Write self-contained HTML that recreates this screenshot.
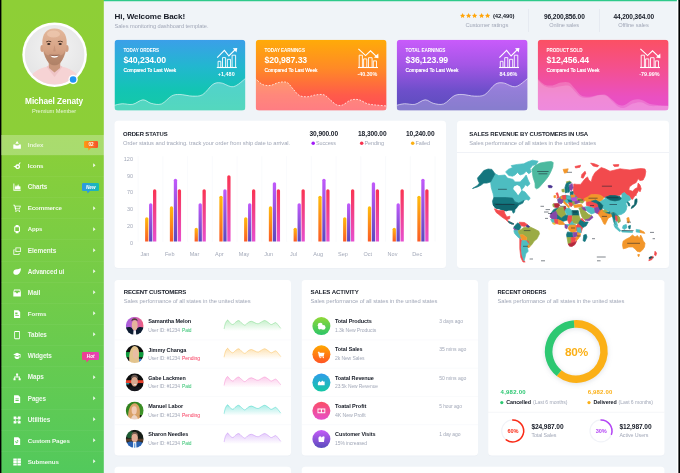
<!DOCTYPE html>
<html><head><meta charset="utf-8"><title>Dashboard</title>
<style>

*{margin:0;padding:0;box-sizing:border-box}
html,body{width:680px;height:473px;overflow:hidden}
body{position:relative;background:#f0f4f8;font-family:"Liberation Sans",sans-serif}
.t{position:absolute;white-space:nowrap;line-height:12px}
.abs{position:absolute}
.card{position:absolute;background:#fff;border-radius:4px;box-shadow:0 0 3px rgba(120,140,170,.10)}
.gc{position:absolute;border-radius:3.5px;overflow:hidden;top:39.7px;height:70.4px;width:130.8px}
.gc svg{position:absolute;left:0;top:0}
svg{display:block;overflow:visible}

</style></head>
<body>
<div id="root" style="position:absolute;left:0;top:0;width:680px;height:473px;will-change:transform">
<svg class="abs" style="left:0;top:0" width="680" height="473" viewBox="0 0 680 473"><defs><linearGradient id="sbg" x1="0" y1="0" x2="0" y2="1"><stop offset="0" stop-color="#8ecf36"/><stop offset=".28" stop-color="#8ccf38"/><stop offset=".6" stop-color="#74cc48"/><stop offset="1" stop-color="#52c95c"/></linearGradient></defs><rect x="0" y="0" width="680" height="1.250" fill="#2ec98a"/><rect x="676.9" y="0" width="1.600" height="473" fill="#fff"/><rect x="678.4" y="0" width="1.600" height="473" fill="#000"/><rect x="0" y="0" width="103.8" height="473" fill="url(#sbg)"/><rect x="0" y="0" width="1.400" height="473" fill="#000"/></svg>
<svg class="abs" style="left:0;top:0" width="680" height="473" viewBox="0 0 680 473"><g fill="#8090a8" fill-opacity=".05" transform="translate(0 .7)"><rect x="114.5" y="120.8" width="331.5" height="147.2" rx="3.5"/><rect x="457" y="120.8" width="212" height="147.2" rx="3.5"/><rect x="114.5" y="280" width="176.5" height="175.5" rx="3.5"/><rect x="301.7" y="280" width="176.3" height="175.5" rx="3.5"/><rect x="488.2" y="280" width="176.3" height="175.5" rx="3.5"/><rect x="114.5" y="466.7" width="176.5" height="20" rx="3.5"/><rect x="301.7" y="466.7" width="362.8" height="20" rx="3.5"/></g><g fill="#fff"><rect x="114.5" y="120.8" width="331.5" height="147.2" rx="3.5"/><rect x="457" y="120.8" width="212" height="147.2" rx="3.5"/><rect x="114.5" y="280" width="176.5" height="175.5" rx="3.5"/><rect x="301.7" y="280" width="176.3" height="175.5" rx="3.5"/><rect x="488.2" y="280" width="176.3" height="175.5" rx="3.5"/><rect x="114.5" y="466.7" width="176.5" height="20" rx="3.5"/><rect x="301.7" y="466.7" width="362.8" height="20" rx="3.5"/></g></svg>
<svg class="abs" style="left:22px;top:22px" width="66" height="66" viewBox="22 22 66 66">
<defs><filter id="fblur" x="-10%" y="-10%" width="120%" height="120%"><feGaussianBlur stdDeviation=".55"/></filter><clipPath id="avc"><circle cx="54.6" cy="54.7" r="29.8"/></clipPath>
<radialGradient id="avbg" cx="50%" cy="40%" r="60%"><stop offset="0" stop-color="#f3f3f3"/><stop offset="1" stop-color="#e3e3e4"/></radialGradient>
<linearGradient id="skin" x1="0" y1="0" x2="0" y2="1"><stop offset="0" stop-color="#e3b89c"/><stop offset=".55" stop-color="#d7a486"/><stop offset="1" stop-color="#b98a70"/></linearGradient>
</defs>
<circle cx="54.6" cy="54.7" r="32.3" fill="#fff"/>
<g clip-path="url(#avc)">
<rect x="22" y="22" width="66" height="66" fill="url(#avbg)"/><g filter="url(#fblur)">
<!-- shirt -->
<path d="M27 90 C28 75 35 69.5 46.5 66.8 L54.5 72 L62.5 66.8 C74 69.5 81 75 82 90 Z" fill="#f6d3d4"/>
<path d="M46.500 66.800 L54.5 77 L62.500 66.800 L59 64.500 L50 64.500 Z" fill="#efc4c6"/>
<!-- neck -->
<path d="M48.5 60 L60.5 60 L60 68 L54.5 72.5 L49 68 Z" fill="#c9977b"/>
<!-- ears -->
<ellipse cx="42.2" cy="48.5" rx="1.8" ry="3.4" fill="#d29f83"/>
<ellipse cx="66.8" cy="48.5" rx="1.8" ry="3.4" fill="#d29f83"/>
<!-- head -->
<path d="M54.5 28.6 C62.8 28.6 66.8 34.5 66.7 43 C66.6 50 65 56 62 60.5 C59.800 63.800 57 65.600 54.5 65.600 C52 65.600 49.2 63.800 47 60.500 C44 56 42.400 50 42.300 43 C42.200 34.500 46.200 28.600 54.500 28.600 Z" fill="url(#skin)"/>
<!-- beard shade -->
<path d="M43.6 50 C45 57 47 61 49.5 63.4 C52 65.6 57 65.6 59.5 63.4 C62 61 64 57 65.4 50 C64 54.5 61.5 56.2 58.8 55 C56.5 54 52.5 54 50.2 55 C47.5 56.2 45 54.5 43.6 50 Z" fill="#9f7258" opacity=".38"/>
<!-- highlight on head -->
<ellipse cx="53.5" cy="34" rx="6.5" ry="3.6" fill="#f0cbb2" opacity=".7"/>
<!-- brows/eyes -->
<path d="M46.2 41.9 Q48.6 40.6 51.2 41.7" stroke="#5b3f30" stroke-width="1" fill="none"/>
<path d="M57.8 41.7 Q60.4 40.6 62.8 41.9" stroke="#5b3f30" stroke-width="1" fill="none"/>
<ellipse cx="48.8" cy="44" rx="1.6" ry=".9" fill="#3a2a24"/>
<ellipse cx="60.2" cy="44" rx="1.6" ry=".9" fill="#3a2a24"/>
<!-- nose -->
<path d="M54.5 45 L53.2 51 Q54.5 52 55.8 51 Z" fill="#c08e73" opacity=".7"/>
<!-- smile -->
<path d="M49.8 55.2 Q54.5 57 59.2 55.2 Q54.5 60.4 49.8 55.2 Z" fill="#fff"/>
<path d="M49.6 55 Q54.5 56.6 59.4 55" stroke="#7f4f42" stroke-width=".6" fill="none"/>
</g></g>
<circle cx="73.1" cy="79.5" r="4.7" fill="#fff"/><circle cx="73.1" cy="79.5" r="3.3" fill="#2196f3"/>
</svg>
<div class="t" style="left:25.10px;top:95px;font-size:8.3px;color:#fff;font-weight:700;letter-spacing:-0.106px;">Michael Zenaty</div>
<div class="t" style="left:32.10px;top:105px;font-size:5.7px;color:rgba(255,255,255,.82);letter-spacing:-0.086px;">Premium Member</div>
<div class="abs" style="left:1.4px;top:134.8px;width:102.2px;height:20.3px;background:rgba(255,255,255,.27)"></div>
<div class="t" style="left:27.80px;top:139px;font-size:6.2px;color:rgba(255,255,255,.72);font-weight:700;letter-spacing:-0.114px;">Index</div>
<svg class="abs" style="left:12.7px;top:140.80px" width="8.200" height="8.200" viewBox="0 0 8 8" fill="#fff"><path d="M4 .1L5.700 2.700H2.300z M.3 3.300H2.100L2.700 4.500H5.300L5.900 3.300H7.700V7.500H.3z"/></svg>
<div class="t" style="left:27.80px;top:160px;font-size:6.2px;color:rgba(255,255,255,.9);font-weight:700;letter-spacing:-0.114px;">Icons</div>
<svg class="abs" style="left:12.7px;top:161.95px" width="8.200" height="8.200" viewBox="0 0 8 8" fill="#fff"><path d="M4.600 2.300a2.300 2.300 0 1 1-2.200 3l-2.100-.8 2.100-.8a2.300 2.300 0 0 1 2.200-1.400z M4.600 3.600a1 1 0 1 0 0 2a1 1 0 0 0 0-2z M5.300 2.200L6.800.2 7.500.8 6.300 2.700z" fill-rule="evenodd"/></svg>
<div class="abs" style="left:1.4px;top:154.78px;width:102.2px;height:.6px;background:rgba(255,255,255,.045)"></div>
<svg class="abs" style="left:92.7px;top:163.25px" width="3" height="4.600" viewBox="0 0 3 4.600"><path d="M.2 .3 L2.500 2.300 L.2 4.300z" fill="#fff" fill-opacity=".88"/></svg>
<div class="t" style="left:27.80px;top:181px;font-size:6.3px;color:rgba(255,255,255,.9);font-weight:700;letter-spacing:-0.076px;">Charts</div>
<svg class="abs" style="left:12.7px;top:183.10px" width="8.200" height="8.200" viewBox="0 0 8 8" fill="#fff"><path d="M.4.6h.9v6h6.3v.9H.4z M1.9 6V4.2l1-2.2.9 1.7L5 1l1 2.6.8-.9.5 1.3V6z"/></svg>
<div class="abs" style="left:1.4px;top:175.93px;width:102.2px;height:.6px;background:rgba(255,255,255,.045)"></div>
<div class="t" style="left:27.80px;top:202px;font-size:6.2px;color:rgba(255,255,255,.9);font-weight:700;letter-spacing:-0.122px;">Ecommerce</div>
<svg class="abs" style="left:12.7px;top:204.25px" width="8.200" height="8.200" viewBox="0 0 8 8" fill="#fff"><path d="M.2.7h1.5l.4 1h5.6l-1 3.3H2.6l.2.7h4v.7H2.2L1.2 1.4h-1z M2.4 2.5l.6 1.8h3.2l.5-1.8z"/><circle cx="2.9" cy="7.3" r=".6"/><circle cx="6.2" cy="7.3" r=".6"/></svg>
<div class="abs" style="left:1.4px;top:197.08px;width:102.2px;height:.6px;background:rgba(255,255,255,.045)"></div>
<svg class="abs" style="left:92.7px;top:205.55px" width="3" height="4.600" viewBox="0 0 3 4.600"><path d="M.2 .3 L2.500 2.300 L.2 4.300z" fill="#fff" fill-opacity=".88"/></svg>
<div class="t" style="left:27.80px;top:223px;font-size:6.0px;color:rgba(255,255,255,.9);font-weight:700;letter-spacing:-0.125px;">Apps</div>
<svg class="abs" style="left:12.7px;top:225.40px" width="8.200" height="8.200" viewBox="0 0 8 8" fill="#fff"><path d="M2.6 0h2.8v1.3h.5a.9.9 0 0 1 .9.9v3.6a.9.9 0 0 1-.9.9h-.5V8H2.6V6.700h-.5a.9.9 0 0 1-.9-.9V2.2a.9.9 0 0 1 .9-.9h.5z M2.2 2.200v3.600h3.600V2.200z" fill-rule="evenodd"/></svg>
<div class="abs" style="left:1.4px;top:218.23px;width:102.2px;height:.6px;background:rgba(255,255,255,.045)"></div>
<svg class="abs" style="left:92.7px;top:226.70px" width="3" height="4.600" viewBox="0 0 3 4.600"><path d="M.2 .3 L2.500 2.300 L.2 4.300z" fill="#fff" fill-opacity=".88"/></svg>
<div class="t" style="left:27.80px;top:245px;font-size:6.5px;color:rgba(255,255,255,.9);font-weight:700;letter-spacing:-0.051px;">Elements</div>
<svg class="abs" style="left:12.7px;top:246.55px" width="8.200" height="8.200" viewBox="0 0 8 8" fill="#fff"><path d="M2.400.4h5.200v4.600H2.400z M3.200 1.200v3h3.600v-3z M.4 2.400h1.400v.8H1.200v3.600h4.400v-.9h.8v1.700H.4z" fill-rule="evenodd"/></svg>
<div class="abs" style="left:1.4px;top:239.38px;width:102.2px;height:.6px;background:rgba(255,255,255,.045)"></div>
<svg class="abs" style="left:92.7px;top:247.85px" width="3" height="4.600" viewBox="0 0 3 4.600"><path d="M.2 .3 L2.500 2.300 L.2 4.300z" fill="#fff" fill-opacity=".88"/></svg>
<div class="t" style="left:27.80px;top:266px;font-size:6.3px;color:rgba(255,255,255,.9);font-weight:700;letter-spacing:-0.087px;">Advanced ui</div>
<svg class="abs" style="left:12.7px;top:267.70px" width="8.200" height="8.200" viewBox="0 0 8 8" fill="#fff"><path d="M.3 4.400C.3 2.400 2 1.300 4 1.300c1.200 0 2-.6 2.800-.9.700-.2 1 .3.900.9C7.400 3.800 6 6.700 3.300 6.700 1.500 6.700.3 5.800.3 4.400z"/></svg>
<div class="abs" style="left:1.4px;top:260.53px;width:102.2px;height:.6px;background:rgba(255,255,255,.045)"></div>
<svg class="abs" style="left:92.7px;top:269.00px" width="3" height="4.600" viewBox="0 0 3 4.600"><path d="M.2 .3 L2.500 2.300 L.2 4.300z" fill="#fff" fill-opacity=".88"/></svg>
<div class="t" style="left:27.80px;top:287px;font-size:6.5px;color:rgba(255,255,255,.9);font-weight:700;letter-spacing:-0.039px;">Mail</div>
<svg class="abs" style="left:12.7px;top:288.85px" width="8.200" height="8.200" viewBox="0 0 8 8" fill="#fff"><path d="M1 .6h6l.7 2.600v4.200H.3V3.200z M1.600 1.400 1.200 3.200h1.700l.4.900h1.400l.4-.9h1.700l-.4-1.800z" fill-rule="evenodd"/></svg>
<div class="abs" style="left:1.4px;top:281.68px;width:102.2px;height:.6px;background:rgba(255,255,255,.045)"></div>
<svg class="abs" style="left:92.7px;top:290.15px" width="3" height="4.600" viewBox="0 0 3 4.600"><path d="M.2 .3 L2.500 2.300 L.2 4.300z" fill="#fff" fill-opacity=".88"/></svg>
<div class="t" style="left:27.80px;top:308px;font-size:6.2px;color:rgba(255,255,255,.9);font-weight:700;letter-spacing:-0.084px;">Forms</div>
<svg class="abs" style="left:12.7px;top:310.00px" width="8.200" height="8.200" viewBox="0 0 8 8" fill="#fff"><path d="M1 .2h4.200L7 2v5.800H1z M2.200 2.400v1.800h2.200V2.400z M2.200 5.200v.7h3.600v-.7z" fill-rule="evenodd"/></svg>
<div class="abs" style="left:1.4px;top:302.83px;width:102.2px;height:.6px;background:rgba(255,255,255,.045)"></div>
<svg class="abs" style="left:92.7px;top:311.30px" width="3" height="4.600" viewBox="0 0 3 4.600"><path d="M.2 .3 L2.500 2.300 L.2 4.300z" fill="#fff" fill-opacity=".88"/></svg>
<div class="t" style="left:27.80px;top:329px;font-size:6.3px;color:rgba(255,255,255,.9);font-weight:700;letter-spacing:-0.081px;">Tables</div>
<svg class="abs" style="left:12.7px;top:331.15px" width="8.200" height="8.200" viewBox="0 0 8 8" fill="#fff"><path d="M2 0h4a.8.800 0 0 1 .8.800v6.400a.8.800 0 0 1-.8.800H2a.8.800 0 0 1-.8-.8V.8A.8.800 0 0 1 2 0z M2 .9v6.200h4V.9z" fill-rule="evenodd"/></svg>
<div class="abs" style="left:1.4px;top:323.98px;width:102.2px;height:.6px;background:rgba(255,255,255,.045)"></div>
<svg class="abs" style="left:92.7px;top:332.45px" width="3" height="4.600" viewBox="0 0 3 4.600"><path d="M.2 .3 L2.500 2.300 L.2 4.300z" fill="#fff" fill-opacity=".88"/></svg>
<div class="t" style="left:27.80px;top:350px;font-size:6.4px;color:rgba(255,255,255,.9);font-weight:700;letter-spacing:-0.114px;">Widgets</div>
<svg class="abs" style="left:12.7px;top:352.30px" width="8.200" height="8.200" viewBox="0 0 8 8" fill="#fff"><path d="M4 .8 7.800 2.500 4 4.200.2 2.500z M1.600 3.900 4 5l2.400-1.100v1.700C5.800 6.500 5 6.900 4 6.900S2.200 6.500 1.600 5.600z M7.200 3v2.400h.5V2.800z"/></svg>
<div class="abs" style="left:1.4px;top:345.12px;width:102.2px;height:.6px;background:rgba(255,255,255,.045)"></div>
<div class="t" style="left:27.80px;top:371px;font-size:6.4px;color:rgba(255,255,255,.9);font-weight:700;letter-spacing:-0.086px;">Maps</div>
<svg class="abs" style="left:12.7px;top:373.45px" width="8.200" height="8.200" viewBox="0 0 8 8" fill="#fff"><path d="M3 .5h2v2H4.400v1h2.400v1.700h.7v2h-2v-2h.6v-.9H1.900v.9h.6v2h-2v-2h.7V3.500h2.400v-1H3z"/></svg>
<div class="abs" style="left:1.4px;top:366.27px;width:102.2px;height:.6px;background:rgba(255,255,255,.045)"></div>
<svg class="abs" style="left:92.7px;top:374.75px" width="3" height="4.600" viewBox="0 0 3 4.600"><path d="M.2 .3 L2.500 2.300 L.2 4.300z" fill="#fff" fill-opacity=".88"/></svg>
<div class="t" style="left:27.80px;top:393px;font-size:6.3px;color:rgba(255,255,255,.9);font-weight:700;letter-spacing:-0.113px;">Pages</div>
<svg class="abs" style="left:12.7px;top:394.60px" width="8.200" height="8.200" viewBox="0 0 8 8" fill="#fff"><path d="M1 .2h4.200L7 2v5.800H1z M2.400 3.400v.8h3.200v-.8z M2.400 5v.8h3.200V5z" fill-rule="evenodd"/></svg>
<div class="abs" style="left:1.4px;top:387.43px;width:102.2px;height:.6px;background:rgba(255,255,255,.045)"></div>
<svg class="abs" style="left:92.7px;top:395.90px" width="3" height="4.600" viewBox="0 0 3 4.600"><path d="M.2 .3 L2.500 2.300 L.2 4.300z" fill="#fff" fill-opacity=".88"/></svg>
<div class="t" style="left:27.80px;top:414px;font-size:6.4px;color:rgba(255,255,255,.9);font-weight:700;letter-spacing:-0.066px;">Utilities</div>
<svg class="abs" style="left:12.7px;top:415.75px" width="8.200" height="8.200" viewBox="0 0 8 8" fill="#fff"><path d="M.6.600h2.600v1.200h1.600V.600h2.600v2.600H6.200v1.600h1.200v2.600H4.800V6.200H3.200v1.200H.6V4.800h1.200V3.200H.6z M2.600 2.600v2.800h2.800V2.600z" fill-rule="evenodd"/></svg>
<div class="abs" style="left:1.4px;top:408.58px;width:102.2px;height:.6px;background:rgba(255,255,255,.045)"></div>
<svg class="abs" style="left:92.7px;top:417.05px" width="3" height="4.600" viewBox="0 0 3 4.600"><path d="M.2 .3 L2.500 2.300 L.2 4.300z" fill="#fff" fill-opacity=".88"/></svg>
<div class="t" style="left:27.80px;top:435px;font-size:6.2px;color:rgba(255,255,255,.9);font-weight:700;letter-spacing:-0.082px;">Custom Pages</div>
<svg class="abs" style="left:12.7px;top:436.90px" width="8.200" height="8.200" viewBox="0 0 8 8" fill="#fff"><path d="M1 .2h4.200L7 2v5.800H1z M3.200 3.400a1.300 1.300 0 1 0 1.700 1.700h-1.700z M4 3v1.300h1.300A1.300 1.300 0 0 0 4 3z" fill-rule="evenodd"/></svg>
<div class="abs" style="left:1.4px;top:429.73px;width:102.2px;height:.6px;background:rgba(255,255,255,.045)"></div>
<svg class="abs" style="left:92.7px;top:438.20px" width="3" height="4.600" viewBox="0 0 3 4.600"><path d="M.2 .3 L2.500 2.300 L.2 4.300z" fill="#fff" fill-opacity=".88"/></svg>
<div class="t" style="left:27.80px;top:456px;font-size:6.2px;color:rgba(255,255,255,.9);font-weight:700;letter-spacing:-0.080px;">Submenus</div>
<svg class="abs" style="left:12.7px;top:458.05px" width="8.200" height="8.200" viewBox="0 0 8 8" fill="#fff"><path d="M.3.600h3.400v2H.3z M4.300.600h3.400v2H4.300z M.3 3h3.400v2H.3z M4.300 3h3.400v2H4.300z M.3 5.400h3.400v2H.3z M4.300 5.400h3.400v2H4.300z"/></svg>
<div class="abs" style="left:1.4px;top:450.88px;width:102.2px;height:.6px;background:rgba(255,255,255,.045)"></div>
<svg class="abs" style="left:92.7px;top:459.35px" width="3" height="4.600" viewBox="0 0 3 4.600"><path d="M.2 .3 L2.500 2.300 L.2 4.300z" fill="#fff" fill-opacity=".88"/></svg>
<div class="abs" style="left:84.1px;top:140.5px;width:13.8px;height:7.6px;border-radius:1.2px;background:linear-gradient(90deg,#ff9b13 0%,#f4512c 100%)"></div>
<svg class="abs" style="left:87.8px;top:147.79999999999998px" width="3" height="2.400" viewBox="0 0 3 2.400"><path d="M0 0h3L.6 2.400z" fill="#ff9b13"/></svg>
<div class="t" style="left:88.44px;top:139px;font-size:4.6px;color:#fff;font-weight:700;">02</div>
<div class="abs" style="left:82.4px;top:183.2px;width:16.7px;height:7.6px;border-radius:1.2px;background:linear-gradient(90deg,#2e97e6 0%,#16bdb0 100%)"></div>
<svg class="abs" style="left:86.5px;top:190.49999999999997px" width="3" height="2.400" viewBox="0 0 3 2.400"><path d="M0 0h3L.6 2.400z" fill="#2e97e6"/></svg>
<div class="t" style="left:86.02px;top:182px;font-size:4.6px;color:#fff;font-weight:700;font-style:italic;">New</div>
<div class="abs" style="left:82.2px;top:352.2px;width:16.9px;height:7.6px;border-radius:1.2px;background:linear-gradient(90deg,#ee3f8e 0%,#e443b7 100%)"></div>
<svg class="abs" style="left:86.3px;top:359.5px" width="3" height="2.400" viewBox="0 0 3 2.400"><path d="M0 0h3L.6 2.400z" fill="#ee3f8e"/></svg>
<div class="t" style="left:86.82px;top:351px;font-size:4.6px;color:#fff;font-weight:700;font-style:italic;">Hot</div>
<div class="t" style="left:114.50px;top:11px;font-size:8.1px;color:#161b26;font-weight:700;letter-spacing:-0.105px;">Hi, Welcome Back!</div>
<div class="t" style="left:114.50px;top:20px;font-size:5.7px;color:#a2a8b8;letter-spacing:-0.050px;">Sales monitoring dashboard template.</div>
<svg class="abs" style="left:459.6px;top:13.4px" width="5.2" height="5" viewBox="0 0 5.2 5"><path d="M2.6 0l.8 1.700 1.800.2-1.300 1.300.3 1.800L2.600 4.100 1 5l.3-1.800L0 1.900l1.800-.2z" fill="#ffa60c"/></svg>
<svg class="abs" style="left:466.0px;top:13.4px" width="5.2" height="5" viewBox="0 0 5.2 5"><path d="M2.6 0l.8 1.700 1.800.2-1.300 1.300.3 1.800L2.600 4.100 1 5l.3-1.800L0 1.900l1.800-.2z" fill="#ffa60c"/></svg>
<svg class="abs" style="left:472.4px;top:13.4px" width="5.2" height="5" viewBox="0 0 5.2 5"><path d="M2.6 0l.8 1.700 1.800.2-1.300 1.300.3 1.800L2.600 4.100 1 5l.3-1.800L0 1.900l1.800-.2z" fill="#ffa60c"/></svg>
<svg class="abs" style="left:478.8px;top:13.4px" width="5.2" height="5" viewBox="0 0 5.2 5"><path d="M2.6 0l.8 1.700 1.800.2-1.300 1.300.3 1.800L2.600 4.100 1 5l.3-1.800L0 1.900l1.800-.2z" fill="#ffa60c"/></svg>
<svg class="abs" style="left:485.2px;top:13.4px" width="5.2" height="5" viewBox="0 0 5.2 5"><path d="M2.6 0l.8 1.700 1.800.2-1.300 1.300.3 1.800L2.600 4.100 1 5l.3-1.800L0 1.900l1.800-.2z" fill="#ffa60c"/></svg>
<div class="t" style="left:492.90px;top:10px;font-size:5.9px;color:#161b26;font-weight:700;letter-spacing:-0.057px;">(42,490)</div>
<div class="t" style="left:465.50px;top:19px;font-size:5.8px;color:#a2a8b8;letter-spacing:-0.090px;">Customer ratings</div>
<div class="abs" style="left:528px;top:8.500px;width:.7px;height:23px;background:#e6eaf1"></div>
<div class="t" style="left:544.00px;top:11px;font-size:6.6px;color:#161b26;font-weight:700;letter-spacing:-0.113px;">96,200,856.00</div>
<div class="t" style="left:549.20px;top:19px;font-size:5.6px;color:#a2a8b8;letter-spacing:-0.091px;">Online sales</div>
<div class="abs" style="left:599px;top:8.500px;width:.7px;height:23px;background:#e6eaf1"></div>
<div class="t" style="left:613.50px;top:11px;font-size:6.5px;color:#161b26;font-weight:700;letter-spacing:-0.083px;">44,200,364.00</div>
<div class="t" style="left:618.20px;top:19px;font-size:5.7px;color:#a2a8b8;letter-spacing:-0.046px;">Offline sales</div>
<svg class="abs" style="left:0;top:0" width="680" height="120" viewBox="0 0 680 120"><defs><linearGradient id="cg0" x1="0" y1="0" x2="0" y2="1"><stop offset="0%" stop-color="#3b9fe9"/><stop offset="38%" stop-color="#22b7cf"/><stop offset="70%" stop-color="#13c4b4"/><stop offset="100%" stop-color="#15c9a6"/></linearGradient><clipPath id="cc0"><rect x="0" y="0" width="130.9" height="70.9" rx="3.5"/></clipPath></defs><g transform="translate(114.5 39.7)"><g clip-path="url(#cc0)"><rect x="0" y="0" width="130.9" height="70.9" fill="url(#cg0)"/><path d="M-0.50 65.68 C0.89 65.40 4.72 64.20 7.82 64.03 C10.93 63.86 14.69 65.30 18.12 64.65 C21.55 64.00 25.32 60.29 28.41 60.12 C31.50 59.95 33.56 62.93 36.65 63.62 C39.74 64.31 43.51 65.47 46.94 64.24 C50.37 63.00 54.15 57.79 57.24 56.21 C60.33 54.63 62.04 54.73 65.47 54.77 C68.90 54.80 74.05 56.38 77.83 56.41 C81.60 56.45 84.69 56.93 88.12 54.97 C91.55 53.02 95.33 46.63 98.41 44.68 C101.50 42.72 103.22 42.86 106.65 43.24 C110.08 43.61 114.90 47.73 119.00 46.94 C123.11 46.15 129.25 39.91 131.30 38.50 L131.3 71 L-.5 71Z" fill="rgba(255,255,255,.27)"/><path d="M-0.50 65.68 C0.89 65.40 4.72 64.20 7.82 64.03 C10.93 63.86 14.69 65.30 18.12 64.65 C21.55 64.00 25.32 60.29 28.41 60.12 C31.50 59.95 33.56 62.93 36.65 63.62 C39.74 64.31 43.51 65.47 46.94 64.24 C50.37 63.00 54.15 57.79 57.24 56.21 C60.33 54.63 62.04 54.73 65.47 54.77 C68.90 54.80 74.05 56.38 77.83 56.41 C81.60 56.45 84.69 56.93 88.12 54.97 C91.55 53.02 95.33 46.63 98.41 44.68 C101.50 42.72 103.22 42.86 106.65 43.24 C110.08 43.61 114.90 47.73 119.00 46.94 C123.11 46.15 129.25 39.91 131.30 38.50" fill="none" stroke="rgba(255,255,255,.75)" stroke-width=".8"/></g><g transform="translate(102.3 8.300)"><g fill="none" stroke="#fff" stroke-width=".9"><path d="M0 19.500H20" stroke-width="1.100"/>
<path d="M1.300 19.300V13.300h2.700v6 M5.700 19.300V9.600h3.100v9.700 M10.600 19.300V11.300h3.100v8 M15.300 19.300V7.200h3.500v12.100"/>
<path d="M.4 9.600L7.600 2.400 12.100 8 18.500 1.500" stroke-width="1.100"/></g><path d="M16 .3L20.500 0 19.700 4.500z" fill="#fff"/></g></g><defs><linearGradient id="cg1" x1="0" y1="0" x2="0" y2="1"><stop offset="0%" stop-color="#ffab08"/><stop offset="40%" stop-color="#ff8a26"/><stop offset="78%" stop-color="#ff5b4a"/><stop offset="100%" stop-color="#ff4d55"/></linearGradient><clipPath id="cc1"><rect x="0" y="0" width="130.9" height="70.9" rx="3.5"/></clipPath></defs><g transform="translate(255.7 39.7)"><g clip-path="url(#cc1)"><rect x="0" y="0" width="130.9" height="70.9" fill="url(#cg1)"/><path d="M-0.50 38.50 C0.68 39.53 4.03 43.48 6.59 44.68 C9.14 45.88 12.08 46.02 14.82 45.71 C17.57 45.40 20.31 43.31 23.06 42.82 C25.80 42.34 28.89 41.73 31.30 42.82 C33.70 43.92 35.41 47.25 37.47 49.41 C39.53 51.58 41.25 54.53 43.65 55.80 C46.05 57.07 49.14 57.13 51.88 57.03 C54.63 56.93 57.37 55.49 60.12 55.18 C62.86 54.87 65.95 54.35 68.35 55.18 C70.76 56.00 72.47 58.47 74.53 60.12 C76.59 61.77 78.65 64.20 80.71 65.06 C82.77 65.92 84.48 66.06 86.88 65.27 C89.29 64.48 92.38 61.18 95.12 60.33 C97.87 59.47 100.61 59.50 103.36 60.12 C106.10 60.74 108.85 63.17 111.59 64.03 C114.34 64.89 116.54 64.89 119.83 65.27 C123.11 65.64 129.39 66.12 131.30 66.30 L131.3 71 L-.5 71Z" fill="rgba(255,255,255,.27)"/><path d="M-0.50 38.50 C0.68 39.53 4.03 43.48 6.59 44.68 C9.14 45.88 12.08 46.02 14.82 45.71 C17.57 45.40 20.31 43.31 23.06 42.82 C25.80 42.34 28.89 41.73 31.30 42.82 C33.70 43.92 35.41 47.25 37.47 49.41 C39.53 51.58 41.25 54.53 43.65 55.80 C46.05 57.07 49.14 57.13 51.88 57.03 C54.63 56.93 57.37 55.49 60.12 55.18 C62.86 54.87 65.95 54.35 68.35 55.18 C70.76 56.00 72.47 58.47 74.53 60.12 C76.59 61.77 78.65 64.20 80.71 65.06 C82.77 65.92 84.48 66.06 86.88 65.27 C89.29 64.48 92.38 61.18 95.12 60.33 C97.87 59.47 100.61 59.50 103.36 60.12 C106.10 60.74 108.85 63.17 111.59 64.03 C114.34 64.89 116.54 64.89 119.83 65.27 C123.11 65.64 129.39 66.12 131.30 66.30" fill="none" stroke="rgba(255,255,255,.85)" stroke-width=".9" stroke-dasharray="1.800 1.400"/></g><g transform="translate(102.3 8.300)"><g fill="none" stroke="#fff" stroke-width=".9"><path d="M0 19.500H20" stroke-width="1.100"/>
<path d="M1.200 19.300V7.200h3.200v12.100 M5.600 19.300V10.900h3.200v8.400 M10.500 19.300V9.700h3.600v9.600 M15.300 19.300V12.900h3.200v6.400"/>
<path d="M.4.800L7.600 7.600 12.500 2.800 18.600 8.600" stroke-width="1.100"/></g><path d="M20.300 5.600L20.400 10.200 15.900 9.600z" fill="#fff"/></g></g><defs><linearGradient id="cg2" x1="0" y1="0" x2="0" y2="1"><stop offset="0%" stop-color="#c95bfb"/><stop offset="35%" stop-color="#a456e6"/><stop offset="72%" stop-color="#6d4fca"/><stop offset="100%" stop-color="#5a4dbb"/></linearGradient><clipPath id="cc2"><rect x="0" y="0" width="130.9" height="70.9" rx="3.5"/></clipPath></defs><g transform="translate(396.7 39.7)"><g clip-path="url(#cc2)"><rect x="0" y="0" width="130.9" height="70.9" fill="url(#cg2)"/><path d="M-0.50 65.68 C0.89 65.40 4.72 64.20 7.82 64.03 C10.93 63.86 14.69 65.30 18.12 64.65 C21.55 64.00 25.32 60.29 28.41 60.12 C31.50 59.95 33.56 62.93 36.65 63.62 C39.74 64.31 43.51 65.47 46.94 64.24 C50.37 63.00 54.15 57.79 57.24 56.21 C60.33 54.63 62.04 54.73 65.47 54.77 C68.90 54.80 74.05 56.38 77.83 56.41 C81.60 56.45 84.69 56.93 88.12 54.97 C91.55 53.02 95.33 46.63 98.41 44.68 C101.50 42.72 103.22 42.86 106.65 43.24 C110.08 43.61 114.90 47.73 119.00 46.94 C123.11 46.15 129.25 39.91 131.30 38.50 L131.3 71 L-.5 71Z" fill="rgba(255,255,255,.27)"/><path d="M-0.50 65.68 C0.89 65.40 4.72 64.20 7.82 64.03 C10.93 63.86 14.69 65.30 18.12 64.65 C21.55 64.00 25.32 60.29 28.41 60.12 C31.50 59.95 33.56 62.93 36.65 63.62 C39.74 64.31 43.51 65.47 46.94 64.24 C50.37 63.00 54.15 57.79 57.24 56.21 C60.33 54.63 62.04 54.73 65.47 54.77 C68.90 54.80 74.05 56.38 77.83 56.41 C81.60 56.45 84.69 56.93 88.12 54.97 C91.55 53.02 95.33 46.63 98.41 44.68 C101.50 42.72 103.22 42.86 106.65 43.24 C110.08 43.61 114.90 47.73 119.00 46.94 C123.11 46.15 129.25 39.91 131.30 38.50" fill="none" stroke="rgba(255,255,255,.75)" stroke-width=".8"/></g><g transform="translate(102.3 8.300)"><g fill="none" stroke="#fff" stroke-width=".9"><path d="M0 19.500H20" stroke-width="1.100"/>
<path d="M1.300 19.300V13.300h2.700v6 M5.700 19.300V9.600h3.100v9.700 M10.600 19.300V11.300h3.100v8 M15.300 19.300V7.200h3.500v12.100"/>
<path d="M.4 9.600L7.600 2.400 12.100 8 18.500 1.500" stroke-width="1.100"/></g><path d="M16 .3L20.500 0 19.700 4.500z" fill="#fff"/></g></g><defs><linearGradient id="cg3" x1="0" y1="0" x2="0" y2="1"><stop offset="0%" stop-color="#fb5063"/><stop offset="40%" stop-color="#f4508e"/><stop offset="80%" stop-color="#ea50c0"/><stop offset="100%" stop-color="#e750cd"/></linearGradient><clipPath id="cc3"><rect x="0" y="0" width="130.9" height="70.9" rx="3.5"/></clipPath></defs><g transform="translate(537.7 39.7)"><g clip-path="url(#cc3)"><rect x="0" y="0" width="130.9" height="70.9" fill="url(#cg3)"/><path d="M-0.50 38.50 C0.68 39.53 4.03 43.48 6.59 44.68 C9.14 45.88 12.08 46.02 14.82 45.71 C17.57 45.40 20.31 43.31 23.06 42.82 C25.80 42.34 28.89 41.73 31.30 42.82 C33.70 43.92 35.41 47.25 37.47 49.41 C39.53 51.58 41.25 54.53 43.65 55.80 C46.05 57.07 49.14 57.13 51.88 57.03 C54.63 56.93 57.37 55.49 60.12 55.18 C62.86 54.87 65.95 54.35 68.35 55.18 C70.76 56.00 72.47 58.47 74.53 60.12 C76.59 61.77 78.65 64.20 80.71 65.06 C82.77 65.92 84.48 66.06 86.88 65.27 C89.29 64.48 92.38 61.18 95.12 60.33 C97.87 59.47 100.61 59.50 103.36 60.12 C106.10 60.74 108.85 63.17 111.59 64.03 C114.34 64.89 116.54 64.89 119.83 65.27 C123.11 65.64 129.39 66.12 131.30 66.30 L131.3 71 L-.5 71Z" fill="rgba(255,255,255,.20)"/><path d="M-0.50 39.24 C0.68 40.41 4.03 44.80 6.59 46.25 C9.14 47.71 12.08 47.90 14.82 47.96 C17.57 48.02 20.31 46.90 23.06 46.59 C25.80 46.28 28.89 45.19 31.30 46.10 C33.70 47.00 35.41 50.10 37.47 52.02 C39.53 53.95 41.25 56.65 43.65 57.65 C46.05 58.65 49.14 58.34 51.88 58.03 C54.63 57.72 57.37 56.12 60.12 55.78 C62.86 55.45 65.95 55.06 68.35 56.01 C70.76 56.96 72.47 59.63 74.53 61.48 C76.59 63.34 78.65 66.04 80.71 67.14 C82.77 68.24 84.48 68.63 86.88 68.09 C89.29 67.55 92.38 64.83 95.12 63.90 C97.87 62.97 100.61 62.16 103.36 62.51 C106.10 62.87 108.85 65.38 111.59 66.02 C114.34 66.67 116.54 66.38 119.83 66.40 C123.11 66.41 129.39 66.15 131.30 66.10 L131.3 71 L-.5 71Z" fill="rgba(255,255,255,.17)"/></g><g transform="translate(102.3 8.300)"><g fill="none" stroke="#fff" stroke-width=".9"><path d="M0 19.500H20" stroke-width="1.100"/>
<path d="M1.200 19.300V7.200h3.200v12.100 M5.600 19.300V10.900h3.200v8.400 M10.500 19.300V9.700h3.600v9.600 M15.300 19.300V12.900h3.200v6.400"/>
<path d="M.4.800L7.600 7.600 12.500 2.800 18.600 8.600" stroke-width="1.100"/></g><path d="M20.300 5.600L20.400 10.200 15.900 9.600z" fill="#fff"/></g></g></svg>
<div class="t" style="left:123.40px;top:45px;font-size:4.6px;color:#fff;font-weight:700;letter-spacing:-0.068px;">TODAY ORDERS</div>
<div class="t" style="left:123.40px;top:54px;font-size:8.7px;color:#fff;font-weight:700;letter-spacing:-0.098px;">$40,234.00</div>
<div class="t" style="left:123.40px;top:64px;font-size:5.0px;color:#fff;letter-spacing:-0.093px;text-shadow:0 0 .3px #fff;">Compared To Last Week</div>
<div class="t" style="left:217.70px;top:68px;font-size:5.4px;color:#fff;font-weight:700;letter-spacing:0.060px;">+1,480</div>
<div class="t" style="left:264.60px;top:45px;font-size:4.6px;color:#fff;font-weight:700;letter-spacing:-0.051px;">TODAY EARNINGS</div>
<div class="t" style="left:264.60px;top:54px;font-size:8.7px;color:#fff;font-weight:700;letter-spacing:-0.098px;">$20,987.33</div>
<div class="t" style="left:264.60px;top:64px;font-size:5.0px;color:#fff;letter-spacing:-0.093px;text-shadow:0 0 .3px #fff;">Compared To Last Week</div>
<div class="t" style="left:357.40px;top:68px;font-size:5.4px;color:#fff;font-weight:700;letter-spacing:-0.011px;">-40.30%</div>
<div class="t" style="left:405.60px;top:45px;font-size:4.7px;color:#fff;font-weight:700;letter-spacing:-0.104px;">TOTAL EARNINGS</div>
<div class="t" style="left:405.60px;top:54px;font-size:8.7px;color:#fff;font-weight:700;letter-spacing:-0.098px;">$36,123.99</div>
<div class="t" style="left:405.60px;top:64px;font-size:5.0px;color:#fff;letter-spacing:-0.093px;text-shadow:0 0 .3px #fff;">Compared To Last Week</div>
<div class="t" style="left:499.50px;top:68px;font-size:5.4px;color:#fff;font-weight:700;letter-spacing:-0.083px;">84.96%</div>
<div class="t" style="left:546.60px;top:45px;font-size:4.6px;color:#fff;font-weight:700;letter-spacing:-0.062px;">PRODUCT SOLD</div>
<div class="t" style="left:546.60px;top:54px;font-size:8.7px;color:#fff;font-weight:700;letter-spacing:-0.098px;">$12,456.44</div>
<div class="t" style="left:546.60px;top:64px;font-size:5.0px;color:#fff;letter-spacing:-0.093px;text-shadow:0 0 .3px #fff;">Compared To Last Week</div>
<div class="t" style="left:639.30px;top:68px;font-size:5.4px;color:#fff;font-weight:700;letter-spacing:0.017px;">-79.99%</div>
<div class="t" style="left:123.00px;top:128px;font-size:5.9px;color:#161b26;font-weight:700;letter-spacing:-0.092px;">ORDER STATUS</div>
<div class="t" style="left:123.00px;top:137px;font-size:5.8px;color:#a2a8b8;letter-spacing:-0.081px;">Order status and tracking. track your order from ship date to arrival.</div>
<div class="t" style="left:309.50px;top:128px;font-size:6.6px;color:#161b26;font-weight:700;letter-spacing:-0.094px;">30,900.00</div>
<div class="t" style="left:358.00px;top:128px;font-size:6.6px;color:#161b26;font-weight:700;letter-spacing:-0.094px;">18,300.00</div>
<div class="t" style="left:406.00px;top:128px;font-size:6.6px;color:#161b26;font-weight:700;letter-spacing:-0.094px;">10,240.00</div>
<div class="t" style="left:316.00px;top:137px;font-size:5.4px;color:#a2a8b8;letter-spacing:-0.089px;">Success</div>
<div class="t" style="left:364.50px;top:137px;font-size:5.5px;color:#a2a8b8;letter-spacing:-0.098px;">Pending</div>
<div class="t" style="left:415.50px;top:137px;font-size:5.5px;color:#a2a8b8;letter-spacing:-0.081px;">Failed</div>
<div class="t" style="left:123.81px;top:153px;font-size:5.5px;color:#a2a8b8;">120</div>
<div class="t" style="left:126.88px;top:170px;font-size:5.5px;color:#a2a8b8;">90</div>
<div class="t" style="left:126.88px;top:186px;font-size:5.5px;color:#a2a8b8;">70</div>
<div class="t" style="left:126.88px;top:203px;font-size:5.5px;color:#a2a8b8;">30</div>
<div class="t" style="left:126.88px;top:220px;font-size:5.5px;color:#a2a8b8;">20</div>
<div class="t" style="left:129.94px;top:237px;font-size:5.5px;color:#a2a8b8;">0</div>
<svg class="abs" style="left:114.5px;top:120.8px" width="331.5" height="147.2" viewBox="114.5 120.8 331.5 147.2"><defs><linearGradient id="bo" x1="0" y1="0" x2="0" y2="1"><stop offset="0" stop-color="#ffbe0b"/><stop offset="1" stop-color="#fb5a26"/></linearGradient><linearGradient id="bp" x1="0" y1="0" x2="0" y2="1"><stop offset="0" stop-color="#c259fb"/><stop offset="1" stop-color="#5b49bd"/></linearGradient><linearGradient id="br" x1="0" y1="0" x2="0" y2="1"><stop offset="0" stop-color="#fa3450"/><stop offset="1" stop-color="#e74fd0"/></linearGradient></defs><path d="M137.60 156V241.5" stroke="#f5f6fa" stroke-width=".6"/><path d="M162.35 156V241.5" stroke="#f5f6fa" stroke-width=".6"/><path d="M187.10 156V241.5" stroke="#f5f6fa" stroke-width=".6"/><path d="M211.85 156V241.5" stroke="#f5f6fa" stroke-width=".6"/><path d="M236.60 156V241.5" stroke="#f5f6fa" stroke-width=".6"/><path d="M261.35 156V241.5" stroke="#f5f6fa" stroke-width=".6"/><path d="M286.10 156V241.5" stroke="#f5f6fa" stroke-width=".6"/><path d="M310.85 156V241.5" stroke="#f5f6fa" stroke-width=".6"/><path d="M335.60 156V241.5" stroke="#f5f6fa" stroke-width=".6"/><path d="M360.35 156V241.5" stroke="#f5f6fa" stroke-width=".6"/><path d="M385.10 156V241.5" stroke="#f5f6fa" stroke-width=".6"/><path d="M409.85 156V241.5" stroke="#f5f6fa" stroke-width=".6"/><path d="M434.60 156V241.5" stroke="#f5f6fa" stroke-width=".6"/><path d="M144.60 241.300V218.60a1.650 1.650 0 0 1 3.300 0V241.300z" fill="url(#bo)"/><path d="M148.55 241.300V204.60a1.650 1.650 0 0 1 3.300 0V241.300z" fill="url(#bp)"/><path d="M152.50 241.300V190.60a1.650 1.650 0 0 1 3.300 0V241.300z" fill="url(#br)"/><path d="M169.35 241.300V207.80a1.650 1.650 0 0 1 3.300 0V241.300z" fill="url(#bo)"/><path d="M173.30 241.300V180.10a1.650 1.650 0 0 1 3.300 0V241.300z" fill="url(#bp)"/><path d="M177.25 241.300V190.60a1.650 1.650 0 0 1 3.300 0V241.300z" fill="url(#br)"/><path d="M194.10 241.300V229.10a1.650 1.650 0 0 1 3.300 0V241.300z" fill="url(#bo)"/><path d="M198.05 241.300V204.60a1.650 1.650 0 0 1 3.300 0V241.300z" fill="url(#bp)"/><path d="M202.00 241.300V190.60a1.650 1.650 0 0 1 3.300 0V241.300z" fill="url(#br)"/><path d="M218.85 241.300V197.10a1.650 1.650 0 0 1 3.300 0V241.300z" fill="url(#bo)"/><path d="M222.80 241.300V190.60a1.650 1.650 0 0 1 3.300 0V241.300z" fill="url(#bp)"/><path d="M226.75 241.300V176.60a1.650 1.650 0 0 1 3.300 0V241.300z" fill="url(#br)"/><path d="M243.60 241.300V218.60a1.650 1.650 0 0 1 3.300 0V241.300z" fill="url(#bo)"/><path d="M247.55 241.300V204.60a1.650 1.650 0 0 1 3.300 0V241.300z" fill="url(#bp)"/><path d="M251.50 241.300V190.60a1.650 1.650 0 0 1 3.300 0V241.300z" fill="url(#br)"/><path d="M268.35 241.300V207.80a1.650 1.650 0 0 1 3.300 0V241.300z" fill="url(#bo)"/><path d="M272.30 241.300V183.60a1.650 1.650 0 0 1 3.300 0V241.300z" fill="url(#bp)"/><path d="M276.25 241.300V190.60a1.650 1.650 0 0 1 3.300 0V241.300z" fill="url(#br)"/><path d="M293.10 241.300V229.10a1.650 1.650 0 0 1 3.300 0V241.300z" fill="url(#bo)"/><path d="M297.05 241.300V204.60a1.650 1.650 0 0 1 3.300 0V241.300z" fill="url(#bp)"/><path d="M301.00 241.300V190.60a1.650 1.650 0 0 1 3.300 0V241.300z" fill="url(#br)"/><path d="M317.85 241.300V197.10a1.650 1.650 0 0 1 3.300 0V241.300z" fill="url(#bo)"/><path d="M321.80 241.300V180.10a1.650 1.650 0 0 1 3.300 0V241.300z" fill="url(#bp)"/><path d="M325.75 241.300V190.60a1.650 1.650 0 0 1 3.300 0V241.300z" fill="url(#br)"/><path d="M342.60 241.300V218.60a1.650 1.650 0 0 1 3.300 0V241.300z" fill="url(#bo)"/><path d="M346.55 241.300V204.60a1.650 1.650 0 0 1 3.300 0V241.300z" fill="url(#bp)"/><path d="M350.50 241.300V190.60a1.650 1.650 0 0 1 3.300 0V241.300z" fill="url(#br)"/><path d="M367.35 241.300V207.80a1.650 1.650 0 0 1 3.300 0V241.300z" fill="url(#bo)"/><path d="M371.30 241.300V183.60a1.650 1.650 0 0 1 3.300 0V241.300z" fill="url(#bp)"/><path d="M375.25 241.300V190.60a1.650 1.650 0 0 1 3.300 0V241.300z" fill="url(#br)"/><path d="M392.10 241.300V229.10a1.650 1.650 0 0 1 3.300 0V241.300z" fill="url(#bo)"/><path d="M396.05 241.300V204.60a1.650 1.650 0 0 1 3.300 0V241.300z" fill="url(#bp)"/><path d="M400.00 241.300V190.60a1.650 1.650 0 0 1 3.300 0V241.300z" fill="url(#br)"/><path d="M416.85 241.300V197.10a1.650 1.650 0 0 1 3.300 0V241.300z" fill="url(#bo)"/><path d="M420.80 241.300V180.10a1.650 1.650 0 0 1 3.300 0V241.300z" fill="url(#bp)"/><path d="M424.75 241.300V190.60a1.650 1.650 0 0 1 3.300 0V241.300z" fill="url(#br)"/><circle cx="312.7" cy="143" r="1.750" fill="#a21cf7"/><circle cx="361.2" cy="143" r="1.750" fill="#f7334f"/><circle cx="412.2" cy="143" r="1.750" fill="#fbb013"/></svg>
<div class="t" style="left:140.56px;top:248px;font-size:5.5px;color:#a2a8b8;">Jan</div>
<div class="t" style="left:165.01px;top:248px;font-size:5.5px;color:#a2a8b8;">Feb</div>
<div class="t" style="left:189.76px;top:248px;font-size:5.5px;color:#a2a8b8;">Mar</div>
<div class="t" style="left:214.97px;top:248px;font-size:5.5px;color:#a2a8b8;">Apr</div>
<div class="t" style="left:238.80px;top:248px;font-size:5.5px;color:#a2a8b8;">May</div>
<div class="t" style="left:264.31px;top:248px;font-size:5.5px;color:#a2a8b8;">Jun</div>
<div class="t" style="left:289.98px;top:248px;font-size:5.5px;color:#a2a8b8;">Jul</div>
<div class="t" style="left:313.35px;top:248px;font-size:5.5px;color:#a2a8b8;">Aug</div>
<div class="t" style="left:338.10px;top:248px;font-size:5.5px;color:#a2a8b8;">Sep</div>
<div class="t" style="left:363.47px;top:248px;font-size:5.5px;color:#a2a8b8;">Oct</div>
<div class="t" style="left:387.61px;top:248px;font-size:5.5px;color:#a2a8b8;">Nov</div>
<div class="t" style="left:412.36px;top:248px;font-size:5.5px;color:#a2a8b8;">Dec</div>
<div class="t" style="left:469.30px;top:128px;font-size:6.0px;color:#161b26;font-weight:700;letter-spacing:-0.114px;">SALES REVENUE BY CUSTOMERS IN USA</div>
<div class="t" style="left:469.30px;top:137px;font-size:5.8px;color:#a2a8b8;letter-spacing:-0.059px;">Sales performance of all states in the united states</div>
<div class="abs" style="left:457px;top:152px;width:212px;height:.6px;background:#f0f2f7"></div>
<svg class="abs" style="left:457px;top:152px" width="212" height="116" viewBox="457 152 212 116"><path d="M495.0 173.8 L498.8 175.6 L505.0 175.0 L507.5 178.1 L513.1 179.4 L515.0 181.9 L520.0 181.9 L523.8 178.1 L526.2 175.0 L528.1 180.0 L530.0 183.8 L527.5 186.2 L525.2 184.8 L523.8 187.5 L521.9 189.4 L520.0 192.5 L518.1 195.0 L516.2 192.5 L513.1 188.8 L514.4 186.2 L517.5 185.0 L520.0 186.2 L521.9 190.6 L525.0 191.9 L527.5 195.0 L530.2 198.1 L528.8 200.2 L526.2 199.4 L523.8 200.6 L521.2 201.9 L518.8 203.1 L515.0 201.9 L512.5 198.1 L506.2 197.5 L493.8 197.5 L493.1 193.8 L491.2 187.5 L490.6 181.9 L491.9 179.4Z" fill="#4dbdc1" stroke="#4dbdc1" stroke-width="0.7" stroke-linejoin="round"/><path d="M514.0 186.5 L517.2 185.0 L520.0 186.5 L521.5 190.6 L520.0 192.8 L518.1 195.2 L516.2 192.5 L513.2 189.0Z" fill="#fff" stroke="#fff" stroke-width="0" stroke-linejoin="round"/><path d="M505.6 171.9 L508.1 169.4 L512.5 167.5 L511.2 165.6 L517.5 164.4 L523.8 163.8 L527.5 161.9 L532.5 160.2 L538.1 161.2 L536.2 164.4 L532.5 165.6 L530.0 168.8 L531.2 171.9 L528.8 173.8 L526.2 171.2 L523.8 173.8 L520.0 175.0 L517.5 172.5 L515.0 175.0 L512.5 176.2 L508.8 175.6Z" fill="#4dbdc1" stroke="#4dbdc1" stroke-width="0.7" stroke-linejoin="round"/><path d="M477.5 178.1 L480.6 174.4 L483.8 170.6 L488.1 169.0 L491.9 169.4 L495.0 173.8 L491.9 179.4 L490.6 181.9 L486.9 183.1 L483.8 183.1 L481.2 185.0 L477.5 186.9 L472.5 188.5 L477.5 185.4 L479.4 183.1 L478.1 180.6Z" fill="#14767e" stroke="#14767e" stroke-width="0.7" stroke-linejoin="round"/><path d="M531.9 169.4 L535.0 165.6 L540.0 163.1 L546.2 161.9 L551.2 161.5 L553.2 162.5 L552.8 166.9 L550.5 172.5 L548.0 176.9 L545.2 180.6 L541.8 184.4 L538.8 187.8 L536.5 188.8 L535.2 187.8 L535.0 183.1 L533.1 177.5 L532.5 173.8Z" fill="#4cb99f" stroke="#4cb99f" stroke-width="0.7" stroke-linejoin="round"/><path d="M493.8 197.5 L506.2 197.5 L512.5 198.1 L515.0 201.9 L518.8 203.1 L521.2 201.9 L524.0 200.4 L522.8 203.1 L518.8 205.0 L516.9 207.5 L515.0 209.4 L514.6 212.2 L513.2 213.2 L512.0 210.0 L508.8 210.0 L506.2 210.8 L502.5 210.0 L499.4 208.8 L495.6 208.1 L493.1 205.0 L492.5 201.2Z" fill="#14767e" stroke="#14767e" stroke-width="0.7" stroke-linejoin="round"/><path d="M494.0 203.1 L502.5 204.0 L510.0 203.8 L517.5 204.5 L516.5 207.5 L514.8 209.5 L512.0 210.0 L508.8 210.0 L506.2 210.8 L502.5 210.0 L499.4 208.8 L495.6 208.1 L493.5 205.2Z" fill="#0f666e" stroke="#0f666e" stroke-width="0.7" stroke-linejoin="round"/><path d="M494.4 208.8 L498.8 210.6 L504.0 210.6 L505.0 213.8 L506.9 216.9 L510.0 216.2 L509.5 218.8 L507.0 219.4 L508.2 221.2 L511.2 222.5 L514.0 224.0 L511.9 224.0 L508.8 222.5 L505.6 219.5 L501.9 217.0 L498.8 214.5 L496.2 212.5Z" fill="#f24a4d" stroke="#f24a4d" stroke-width="0.7" stroke-linejoin="round"/><path d="M508.2 221.2 L511.2 222.5 L514.0 224.0 L512.0 224.2 L509.0 222.8Z" fill="#14767e" stroke="#14767e" stroke-width="0.7" stroke-linejoin="round"/><path d="M514.4 226.2 L517.5 223.1 L519.8 223.8 L521.0 227.0 L519.0 230.2 L515.6 229.6 L513.8 228.1Z" fill="#14767e" stroke="#14767e" stroke-width="0.7" stroke-linejoin="round"/><path d="M519.2 222.2 L524.5 222.5 L527.8 225.0 L524.5 226.5 L521.2 225.8 L519.8 223.8Z" fill="#f24a4d" stroke="#f24a4d" stroke-width="0.7" stroke-linejoin="round"/><path d="M513.5 228.2 L515.6 229.6 L517.5 230.6 L515.2 231.0Z" fill="#8549a8" stroke="#8549a8" stroke-width="0.7" stroke-linejoin="round"/><path d="M527.8 225.0 L530.0 226.9 L528.2 228.2 L526.5 227.2 L526.2 225.8Z" fill="#3f3d94" stroke="#3f3d94" stroke-width="0.7" stroke-linejoin="round"/><path d="M513.8 230.6 L517.5 230.6 L519.4 234.5 L522.0 237.8 L520.2 239.0 L517.0 236.2 L514.5 233.2Z" fill="#4dbdc1" stroke="#4dbdc1" stroke-width="0.7" stroke-linejoin="round"/><path d="M521.2 229.4 L523.8 227.5 L526.5 227.2 L528.2 228.2 L530.0 226.9 L534.0 228.8 L538.8 231.2 L539.5 233.8 L537.0 238.8 L534.0 241.2 L532.0 244.5 L529.5 246.5 L528.2 242.5 L526.5 240.8 L527.0 237.5 L522.8 234.5 L519.4 234.5 L518.1 230.8Z" fill="#9bab45" stroke="#9bab45" stroke-width="0.7" stroke-linejoin="round"/><path d="M520.0 235.0 L523.1 234.8 L527.0 237.8 L525.8 240.8 L522.0 240.2Z" fill="#f2962a" stroke="#f2962a" stroke-width="0.7" stroke-linejoin="round"/><path d="M525.8 240.8 L528.2 241.2 L529.0 243.5 L526.8 243.0Z" fill="#f24a4d" stroke="#f24a4d" stroke-width="0.7" stroke-linejoin="round"/><path d="M519.8 238.5 L522.0 240.5 L521.2 247.5 L522.0 255.0 L524.0 260.8 L525.2 262.1 L523.0 262.0 L520.8 257.5 L519.8 248.8Z" fill="#f24a4d" stroke="#f24a4d" stroke-width="0.7" stroke-linejoin="round"/><path d="M522.0 240.5 L526.2 240.8 L528.2 243.2 L529.5 246.5 L527.5 248.2 L528.2 251.2 L525.8 253.8 L525.0 257.5 L524.0 260.8 L522.0 255.0 L521.2 247.5Z" fill="#4dbdc1" stroke="#4dbdc1" stroke-width="0.7" stroke-linejoin="round"/><path d="M528.2 244.8 L530.2 246.0 L529.0 247.8 L527.5 247.0Z" fill="#f2962a" stroke="#f2962a" stroke-width="0.7" stroke-linejoin="round"/><path d="M573.8 184.0 L573.2 192.5 L576.2 197.5 L581.2 199.0 L584.0 201.5 L586.2 198.2 L591.2 196.2 L595.0 194.5 L600.0 195.0 L603.8 197.5 L607.5 197.0 L612.5 195.8 L620.0 195.2 L621.9 194.0 L624.4 192.5 L626.9 195.0 L629.4 196.2 L631.2 198.8 L632.5 199.4 L635.0 195.6 L637.5 192.5 L638.8 190.0 L640.0 191.9 L641.2 188.8 L640.0 185.0 L638.1 183.1 L637.5 187.5 L635.0 188.8 L632.5 191.2 L628.8 190.0 L629.4 186.9 L632.5 184.4 L636.2 182.5 L638.1 178.8 L640.0 180.6 L643.1 180.0 L645.0 176.2 L645.8 171.5 L645.0 169.0 L641.2 168.5 L636.2 169.0 L630.0 170.0 L625.0 169.4 L620.0 168.8 L615.0 170.0 L610.0 171.2 L605.0 168.8 L601.2 167.5 L598.8 169.4 L595.0 172.5 L592.5 176.9 L591.2 181.9 L588.8 180.0 L587.5 176.9 L585.0 178.8 L582.5 181.9 L580.6 184.4 L576.9 184.4Z" fill="#f24a4d" stroke="#f24a4d" stroke-width="0.7" stroke-linejoin="round"/><path d="M581.9 174.4 L585.0 171.2 L585.8 173.2 L583.2 178.2 L581.2 177.5Z" fill="#f24a4d" stroke="#f24a4d" stroke-width="0.7" stroke-linejoin="round"/><path d="M590.6 163.1 L594.4 163.8 L598.8 165.6 L597.5 166.9 L593.1 166.0Z" fill="#f24a4d" stroke="#f24a4d" stroke-width="0.7" stroke-linejoin="round"/><path d="M613.1 164.8 L618.8 164.5 L618.5 166.2 L614.4 166.5Z" fill="#f24a4d" stroke="#f24a4d" stroke-width="0.7" stroke-linejoin="round"/><path d="M575.0 166.5 L580.6 165.2 L580.0 167.2 L575.6 168.0Z" fill="#f24a4d" stroke="#f24a4d" stroke-width="0.7" stroke-linejoin="round"/><path d="M563.1 169.4 L568.2 168.8 L567.0 172.5 L564.5 173.2Z" fill="#f2962a" stroke="#f2962a" stroke-width="0.7" stroke-linejoin="round"/><path d="M583.8 198.8 L587.5 197.0 L591.2 194.5 L595.0 194.5 L600.0 195.0 L603.8 197.5 L602.0 200.8 L597.5 202.0 L593.8 203.2 L590.0 201.2 L587.0 202.5Z" fill="#f2962a" stroke="#f2962a" stroke-width="0.7" stroke-linejoin="round"/><path d="M596.9 204.4 L600.0 201.9 L605.0 198.8 L605.6 197.0 L610.0 200.0 L615.0 200.8 L620.0 199.5 L621.9 197.0 L621.9 193.8 L624.4 192.5 L626.9 195.0 L629.4 196.2 L630.8 199.5 L628.2 201.2 L625.8 203.8 L627.0 206.2 L626.2 210.0 L624.5 212.5 L621.2 214.5 L617.5 215.0 L614.5 212.5 L611.2 213.2 L609.5 211.2 L606.2 210.8 L602.5 208.2 L599.5 207.0Z" fill="#4dbdc1" stroke="#4dbdc1" stroke-width="0.7" stroke-linejoin="round"/><path d="M605.6 197.2 L610.0 195.6 L615.0 195.6 L620.0 196.5 L621.2 198.8 L619.5 200.0 L615.0 200.9 L610.0 200.0Z" fill="#0f646b" stroke="#0f646b" stroke-width="0.7" stroke-linejoin="round"/><path d="M627.2 201.8 L629.2 203.0 L630.0 205.8 L628.5 205.8Z" fill="#14767e" stroke="#14767e" stroke-width="0.7" stroke-linejoin="round"/><path d="M635.0 199.4 L637.0 198.8 L637.0 202.0 L635.8 205.0 L633.2 207.5 L631.2 208.5 L632.0 206.2 L634.5 204.5Z" fill="#0f646b" stroke="#0f646b" stroke-width="0.7" stroke-linejoin="round"/><path d="M634.8 190.0 L635.9 190.2 L636.2 195.6 L635.2 195.5Z" fill="#f24a4d" stroke="#f24a4d" stroke-width="0.7" stroke-linejoin="round"/><path d="M573.5 205.0 L581.2 204.2 L582.8 206.8 L574.5 207.5Z" fill="#f2962a" stroke="#f2962a" stroke-width="0.7" stroke-linejoin="round"/><path d="M581.2 207.2 L585.2 207.2 L586.5 210.8 L583.2 211.0Z" fill="#8549a8" stroke="#8549a8" stroke-width="0.7" stroke-linejoin="round"/><path d="M578.8 208.0 L581.5 207.5 L583.0 211.0 L580.5 211.5Z" fill="#9bab45" stroke="#9bab45" stroke-width="0.7" stroke-linejoin="round"/><path d="M580.0 211.2 L583.8 210.2 L588.8 214.5 L592.0 215.8 L588.8 218.8 L585.0 220.0 L582.0 217.0Z" fill="#9bab45" stroke="#9bab45" stroke-width="0.7" stroke-linejoin="round"/><path d="M585.0 220.0 L588.8 218.8 L592.0 215.8 L593.0 217.5 L589.0 220.8Z" fill="#8549a8" stroke="#8549a8" stroke-width="0.7" stroke-linejoin="round"/><path d="M585.0 207.0 L590.0 206.2 L594.5 208.8 L595.2 212.5 L591.5 214.0 L587.5 211.5Z" fill="#4dbdc1" stroke="#4dbdc1" stroke-width="0.7" stroke-linejoin="round"/><path d="M586.2 202.5 L591.5 201.2 L597.5 202.8 L598.8 207.0 L594.5 208.0 L590.0 206.2 L586.5 205.5Z" fill="#f24a4d" stroke="#f24a4d" stroke-width="0.7" stroke-linejoin="round"/><path d="M591.5 201.2 L595.6 200.0 L600.0 202.5 L598.1 203.8Z" fill="#14767e" stroke="#14767e" stroke-width="0.7" stroke-linejoin="round"/><path d="M594.5 208.0 L598.8 207.0 L600.2 210.0 L597.8 213.8 L595.2 212.5Z" fill="#8549a8" stroke="#8549a8" stroke-width="0.7" stroke-linejoin="round"/><path d="M597.8 213.8 L600.2 210.0 L601.9 209.0 L602.8 211.0 L600.0 215.0Z" fill="#f24a4d" stroke="#f24a4d" stroke-width="0.7" stroke-linejoin="round"/><path d="M598.8 215.0 L601.5 209.0 L605.2 212.5 L610.0 213.8 L613.2 212.5 L612.8 215.8 L608.2 218.2 L605.2 224.5 L603.8 223.8 L601.2 218.2Z" fill="#f2962a" stroke="#f2962a" stroke-width="0.7" stroke-linejoin="round"/><path d="M605.2 212.5 L610.0 211.8 L610.2 213.8Z" fill="#14767e" stroke="#14767e" stroke-width="0.7" stroke-linejoin="round"/><path d="M611.2 213.1 L614.4 212.5 L617.5 215.0 L619.5 218.1 L620.2 221.5 L618.2 222.2 L617.0 219.8 L616.0 218.0 L615.2 220.8 L616.5 224.5 L615.0 225.0 L613.5 221.2 L612.5 216.2Z" fill="#2a8f93" stroke="#2a8f93" stroke-width="0.7" stroke-linejoin="round"/><path d="M613.2 212.5 L615.2 215.8 L614.5 220.0 L612.5 216.2Z" fill="#14767e" stroke="#14767e" stroke-width="0.7" stroke-linejoin="round"/><path d="M615.2 215.8 L617.5 216.2 L618.1 220.0 L616.5 221.8 L615.8 219.5Z" fill="#f24a4d" stroke="#f24a4d" stroke-width="0.7" stroke-linejoin="round"/><path d="M617.5 216.2 L619.5 217.0 L620.2 221.2 L618.2 223.0 L618.1 220.0Z" fill="#9bab45" stroke="#9bab45" stroke-width="0.7" stroke-linejoin="round"/><path d="M615.0 221.8 L616.5 221.8 L617.8 226.2 L616.5 226.5Z" fill="#4dbdc1" stroke="#4dbdc1" stroke-width="0.7" stroke-linejoin="round"/><path d="M613.8 224.4 L617.5 226.9 L620.8 230.8 L619.5 231.5 L615.0 227.5Z" fill="#4dbdc1" stroke="#4dbdc1" stroke-width="0.7" stroke-linejoin="round"/><path d="M623.1 225.6 L626.2 224.4 L627.0 227.5 L624.5 229.5 L622.5 228.2Z" fill="#4dbdc1" stroke="#4dbdc1" stroke-width="0.7" stroke-linejoin="round"/><path d="M621.9 230.6 L632.5 231.2 L632.5 232.4 L621.9 232.0Z" fill="#4dbdc1" stroke="#4dbdc1" stroke-width="0.7" stroke-linejoin="round"/><path d="M628.5 226.0 L630.5 225.5 L630.0 229.0 L628.8 228.5Z" fill="#14767e" stroke="#14767e" stroke-width="0.7" stroke-linejoin="round"/><path d="M636.2 229.4 L640.0 230.0 L640.2 232.5 L636.2 232.0Z" fill="#4dbdc1" stroke="#4dbdc1" stroke-width="0.7" stroke-linejoin="round"/><path d="M640.0 230.0 L644.0 231.9 L644.8 233.4 L640.2 232.5Z" fill="#f2962a" stroke="#f2962a" stroke-width="0.7" stroke-linejoin="round"/><path d="M626.9 218.1 L628.8 217.5 L629.5 221.2 L628.2 223.2 L627.2 220.8Z" fill="#f2962a" stroke="#f2962a" stroke-width="0.7" stroke-linejoin="round"/><path d="M623.1 241.2 L625.6 239.4 L629.4 237.5 L632.5 235.0 L635.0 236.9 L637.5 235.6 L639.4 238.2 L640.6 235.0 L642.0 237.5 L643.2 240.8 L645.0 243.2 L644.5 247.0 L642.5 250.0 L640.0 252.0 L637.0 251.2 L635.0 248.8 L632.5 247.0 L628.8 247.0 L625.8 248.2 L623.2 248.8 L622.5 245.0Z" fill="#f2962a" stroke="#f2962a" stroke-width="0.7" stroke-linejoin="round"/><path d="M637.8 254.5 L639.5 254.5 L639.0 256.5 L638.0 256.2Z" fill="#f2962a" stroke="#f2962a" stroke-width="0.7" stroke-linejoin="round"/><path d="M655.0 251.2 L656.6 253.1 L655.8 255.8 L654.5 255.0Z" fill="#f24a4d" stroke="#f24a4d" stroke-width="0.7" stroke-linejoin="round"/><path d="M650.0 257.0 L653.2 256.2 L652.0 259.5 L648.8 260.8Z" fill="#f24a4d" stroke="#f24a4d" stroke-width="0.7" stroke-linejoin="round"/><path d="M649.5 257.2 L651.5 256.5 L651.0 258.2 L649.2 258.8Z" fill="#14767e" stroke="#14767e" stroke-width="0.7" stroke-linejoin="round"/><path d="M550.6 213.8 L553.8 209.4 L558.8 207.5 L555.8 211.2 L552.5 214.0Z" fill="#14767e" stroke="#14767e" stroke-width="0.7" stroke-linejoin="round"/><path d="M555.8 211.2 L558.8 207.5 L563.8 206.9 L565.0 211.2 L565.8 215.0 L561.2 218.2 L557.5 215.0Z" fill="#9bab45" stroke="#9bab45" stroke-width="0.7" stroke-linejoin="round"/><path d="M563.8 206.9 L565.6 206.5 L566.2 209.0 L565.0 211.0Z" fill="#b42a3c" stroke="#b42a3c" stroke-width="0.7" stroke-linejoin="round"/><path d="M565.0 210.8 L566.2 208.5 L568.8 208.1 L572.0 210.6 L572.0 215.8 L567.0 215.0Z" fill="#4dbdc1" stroke="#4dbdc1" stroke-width="0.7" stroke-linejoin="round"/><path d="M572.0 210.6 L578.2 210.6 L579.0 215.8 L572.5 215.8Z" fill="#0f646b" stroke="#0f646b" stroke-width="0.7" stroke-linejoin="round"/><path d="M550.6 213.8 L555.8 211.2 L557.5 215.0 L557.5 219.0 L552.5 219.5 L550.0 217.0Z" fill="#8549a8" stroke="#8549a8" stroke-width="0.7" stroke-linejoin="round"/><path d="M557.5 215.0 L561.2 218.2 L565.8 215.0 L568.2 215.8 L567.5 220.0 L562.5 221.5 L557.5 219.5Z" fill="#14767e" stroke="#14767e" stroke-width="0.7" stroke-linejoin="round"/><path d="M568.2 215.8 L572.0 215.8 L572.0 221.2 L569.5 224.5 L567.5 220.0Z" fill="#f24a4d" stroke="#f24a4d" stroke-width="0.7" stroke-linejoin="round"/><path d="M572.5 215.8 L579.0 215.8 L580.8 219.5 L578.2 223.8 L573.2 223.2 L572.0 220.8Z" fill="#9bab45" stroke="#9bab45" stroke-width="0.7" stroke-linejoin="round"/><path d="M578.2 223.8 L580.8 219.5 L585.0 222.0 L588.2 222.0 L586.2 225.8 L582.5 227.8 L579.5 226.2Z" fill="#14767e" stroke="#14767e" stroke-width="0.7" stroke-linejoin="round"/><path d="M580.8 219.5 L582.0 218.2 L585.0 222.0Z" fill="#f24a4d" stroke="#f24a4d" stroke-width="0.7" stroke-linejoin="round"/><path d="M550.6 219.5 L554.4 219.5 L555.0 223.2 L552.5 222.8Z" fill="#4dbdc1" stroke="#4dbdc1" stroke-width="0.7" stroke-linejoin="round"/><path d="M554.4 219.5 L558.1 219.5 L558.5 224.0 L555.0 223.5Z" fill="#f24a4d" stroke="#f24a4d" stroke-width="0.7" stroke-linejoin="round"/><path d="M558.1 219.5 L562.5 221.5 L565.0 224.5 L558.8 224.5Z" fill="#f2962a" stroke="#f2962a" stroke-width="0.7" stroke-linejoin="round"/><path d="M552.5 222.8 L555.0 223.2 L555.2 224.5 L553.2 224.0Z" fill="#f1c232" stroke="#f1c232" stroke-width="0.7" stroke-linejoin="round"/><path d="M565.0 224.5 L569.5 224.5 L572.0 221.2 L573.2 223.2 L575.8 225.0 L569.5 225.2 L566.2 227.8Z" fill="#4dbdc1" stroke="#4dbdc1" stroke-width="0.7" stroke-linejoin="round"/><path d="M565.0 224.5 L567.5 225.8 L567.0 228.8 L565.0 227.8Z" fill="#8549a8" stroke="#8549a8" stroke-width="0.7" stroke-linejoin="round"/><path d="M569.5 225.2 L575.8 225.0 L576.5 231.2 L572.5 232.8 L569.5 230.8 L568.2 228.2Z" fill="#f2962a" stroke="#f2962a" stroke-width="0.7" stroke-linejoin="round"/><path d="M576.2 225.8 L578.2 223.8 L582.5 227.8 L581.2 232.5 L577.5 232.5 L576.2 228.8Z" fill="#f24a4d" stroke="#f24a4d" stroke-width="0.7" stroke-linejoin="round"/><path d="M576.9 227.8 L580.6 227.8 L581.2 232.5 L577.5 232.5Z" fill="#4dbdc1" stroke="#4dbdc1" stroke-width="0.7" stroke-linejoin="round"/><path d="M567.5 231.9 L572.5 232.8 L573.2 237.5 L567.0 237.5 L566.5 234.8Z" fill="#14767e" stroke="#14767e" stroke-width="0.7" stroke-linejoin="round"/><path d="M573.2 232.5 L577.5 232.5 L577.8 236.2 L573.2 237.5Z" fill="#8549a8" stroke="#8549a8" stroke-width="0.7" stroke-linejoin="round"/><path d="M577.5 232.5 L580.8 233.8 L578.8 238.2 L576.2 241.0 L575.8 237.5 L577.8 236.2Z" fill="#f2962a" stroke="#f2962a" stroke-width="0.7" stroke-linejoin="round"/><path d="M567.0 237.5 L571.2 237.5 L571.2 243.2 L568.2 244.0Z" fill="#9bab45" stroke="#9bab45" stroke-width="0.7" stroke-linejoin="round"/><path d="M571.2 237.5 L575.8 237.8 L575.0 242.2 L571.2 243.2Z" fill="#f24a4d" stroke="#f24a4d" stroke-width="0.7" stroke-linejoin="round"/><path d="M568.2 244.0 L571.2 243.2 L575.0 242.2 L576.5 241.2 L575.0 244.5 L572.0 246.5 L569.5 246.2Z" fill="#b42a3c" stroke="#b42a3c" stroke-width="0.7" stroke-linejoin="round"/><path d="M583.8 235.0 L586.2 234.4 L587.0 237.0 L585.0 241.5 L583.1 240.8Z" fill="#14767e" stroke="#14767e" stroke-width="0.7" stroke-linejoin="round"/><path d="M557.7 199.5 L560.7 196.6 L562.3 195.8 L565.8 195.3 L570.5 196.2 L570.9 195.0 L574.8 195.0 L577.1 197.5 L579.0 200.4 L579.9 202.2 L576.5 203.4 L575.1 203.8 L573.1 204.3 L571.4 206.5 L569.7 205.5 L568.4 202.6 L567.7 201.7 L564.6 201.9 L563.3 201.2 L561.6 203.4 L558.5 202.9Z" fill="#3d9da6" stroke="#3d9da6" stroke-width="0.7" stroke-linejoin="round"/><path d="M548.0 185.7 L550.1 185.3 L552.3 186.2 L551.8 187.7 L548.8 187.7Z" fill="#4a3590" stroke="#4a3590" stroke-width="0.7" stroke-linejoin="round"/><path d="M566.2 181.9 L569.5 181.1 L571.4 182.3 L569.5 183.1 L567.2 183.5Z" fill="#9bab45" stroke="#9bab45" stroke-width="0.7" stroke-linejoin="round"/><path d="M564.9 187.7 L566.2 183.5 L569.5 181.9 L571.2 182.8 L568.9 184.5 L567.7 187.7 L567.2 192.3 L565.3 192.9Z" fill="#14767e" stroke="#14767e" stroke-width="0.7" stroke-linejoin="round"/><path d="M567.7 187.7 L569.2 185.2 L570.2 187.7 L569.2 191.9 L567.7 192.6Z" fill="#14767e" stroke="#14767e" stroke-width="0.7" stroke-linejoin="round"/><path d="M569.7 185.2 L572.1 183.5 L573.1 187.7 L571.4 190.7 L569.7 189.4Z" fill="#8549a8" stroke="#8549a8" stroke-width="0.7" stroke-linejoin="round"/><path d="M561.8 189.6 L564.1 189.0 L564.3 191.9 L562.3 191.9Z" fill="#9bab45" stroke="#9bab45" stroke-width="0.7" stroke-linejoin="round"/><path d="M556.0 193.2 L557.7 192.8 L558.5 195.7 L559.4 197.5 L556.8 198.4 L557.4 196.2Z" fill="#f24a4d" stroke="#f24a4d" stroke-width="0.7" stroke-linejoin="round"/><path d="M553.9 195.7 L555.7 195.5 L555.7 197.5 L554.0 197.7Z" fill="#f2962a" stroke="#f2962a" stroke-width="0.7" stroke-linejoin="round"/><path d="M557.7 199.5 L561.9 198.4 L563.3 201.2 L561.6 203.4 L558.5 202.9Z" fill="#8549a8" stroke="#8549a8" stroke-width="0.7" stroke-linejoin="round"/><path d="M553.5 203.8 L558.5 203.4 L559.9 205.5 L557.7 207.7 L554.3 207.1Z" fill="#b42a3c" stroke="#b42a3c" stroke-width="0.7" stroke-linejoin="round"/><path d="M552.8 204.2 L553.8 203.9 L554.1 207.0 L553.0 206.5Z" fill="#9bab45" stroke="#9bab45" stroke-width="0.7" stroke-linejoin="round"/><path d="M560.7 196.6 L562.4 196.0 L562.9 198.7 L561.2 198.9Z" fill="#f2962a" stroke="#f2962a" stroke-width="0.7" stroke-linejoin="round"/><path d="M562.3 195.8 L565.8 195.3 L566.3 199.7 L563.3 200.0Z" fill="#f24a4d" stroke="#f24a4d" stroke-width="0.7" stroke-linejoin="round"/><path d="M566.6 196.7 L570.5 196.2 L570.9 199.2 L567.0 199.7Z" fill="#4dbdc1" stroke="#4dbdc1" stroke-width="0.7" stroke-linejoin="round"/><path d="M570.0 191.9 L573.1 191.5 L573.1 195.0 L570.5 195.1Z" fill="#14767e" stroke="#14767e" stroke-width="0.7" stroke-linejoin="round"/><path d="M570.9 195.0 L574.8 195.0 L574.8 197.5 L571.4 197.8Z" fill="#f2962a" stroke="#f2962a" stroke-width="0.7" stroke-linejoin="round"/><path d="M571.2 198.0 L577.1 197.5 L579.0 200.4 L574.8 201.7 L571.7 200.4Z" fill="#b552d6" stroke="#b552d6" stroke-width="0.7" stroke-linejoin="round"/><path d="M563.8 200.0 L567.2 199.7 L567.7 201.7 L564.6 201.9Z" fill="#9bab45" stroke="#9bab45" stroke-width="0.7" stroke-linejoin="round"/><path d="M567.2 199.7 L571.4 200.4 L572.2 202.9 L568.4 202.6Z" fill="#14767e" stroke="#14767e" stroke-width="0.7" stroke-linejoin="round"/><path d="M568.4 202.6 L572.2 202.9 L573.1 204.3 L571.4 206.5 L569.7 205.5Z" fill="#f24a4d" stroke="#f24a4d" stroke-width="0.7" stroke-linejoin="round"/><path d="M572.2 201.9 L574.8 201.7 L575.1 203.8 L573.1 204.3Z" fill="#9bab45" stroke="#9bab45" stroke-width="0.7" stroke-linejoin="round"/><path d="M563.2 201.7 L565.3 201.2 L567.5 204.6 L569.7 207.1 L568.4 207.7 L565.8 204.8 L564.1 203.4Z" fill="#f2962a" stroke="#f2962a" stroke-width="0.7" stroke-linejoin="round"/><path d="M576.9 198.1 L581.2 199.0 L584.0 201.5 L582.5 203.2 L577.8 201.8Z" fill="#9bab45" stroke="#9bab45" stroke-width="0.7" stroke-linejoin="round"/><path d="M565.8 200.0 L567.2 199.7 L568.4 202.6 L567.2 203.1 L565.3 201.4Z" fill="#4dbdc1" stroke="#4dbdc1" stroke-width="0.7" stroke-linejoin="round"/><path d="M574.8 201.7 L579.0 200.4 L579.9 202.2 L576.5 203.4 L575.1 203.8Z" fill="#8549a8" stroke="#8549a8" stroke-width="0.7" stroke-linejoin="round"/><path d="M597.5 202.8 L600.0 202.5 L602.8 205.5 L601.9 209.0 L600.2 210.0 L598.8 207.0Z" fill="#0f646b" stroke="#0f646b" stroke-width="0.7" stroke-linejoin="round"/><path d="M602.8 211.0 L605.0 209.8 L607.5 211.5 L605.2 212.5Z" fill="#9bab45" stroke="#9bab45" stroke-width="0.7" stroke-linejoin="round"/><path d="M498 189.3H506.8" stroke="#1b2430" stroke-opacity=".62" stroke-width=".9"/><path d="M495.4 204.5H514.4" stroke="#1b2430" stroke-opacity=".62" stroke-width=".9"/><path d="M537.2 171.5H548.6" stroke="#1b2430" stroke-opacity=".62" stroke-width=".9"/><path d="M538.5 173.8H547.4" stroke="#1b2430" stroke-opacity=".62" stroke-width=".9"/><path d="M523.8 230.6H530.4" stroke="#1b2430" stroke-opacity=".62" stroke-width=".9"/><path d="M523 246.3H528" stroke="#1b2430" stroke-opacity=".62" stroke-width=".9"/><path d="M540.5 206.3H544" stroke="#1b2430" stroke-opacity=".62" stroke-width=".9"/><path d="M545.6 209.6H550" stroke="#1b2430" stroke-opacity=".62" stroke-width=".9"/><path d="M544 212H548.6" stroke="#1b2430" stroke-opacity=".62" stroke-width=".9"/><path d="M545 218.4H548" stroke="#1b2430" stroke-opacity=".62" stroke-width=".9"/><path d="M529.6 259H533" stroke="#1b2430" stroke-opacity=".62" stroke-width=".9"/><path d="M541 260.8H545" stroke="#1b2430" stroke-opacity=".62" stroke-width=".9"/><path d="M601.9 186.2H612" stroke="#1b2430" stroke-opacity=".62" stroke-width=".9"/><path d="M588.5 198.2H597.6" stroke="#1b2430" stroke-opacity=".62" stroke-width=".9"/><path d="M607 197.7H618.4" stroke="#1b2430" stroke-opacity=".62" stroke-width=".9"/><path d="M609.5 204.5H617" stroke="#1b2430" stroke-opacity=".62" stroke-width=".9"/><path d="M601.9 216.4H607" stroke="#1b2430" stroke-opacity=".62" stroke-width=".9"/><path d="M627.2 243.3H640" stroke="#1b2430" stroke-opacity=".62" stroke-width=".9"/><path d="M621.4 230.6H633.6" stroke="#1b2430" stroke-opacity=".62" stroke-width=".9"/><path d="M567 172.3H572" stroke="#1b2430" stroke-opacity=".62" stroke-width=".9"/><path d="M560 206.3H565.6" stroke="#1b2430" stroke-opacity=".62" stroke-width=".9"/><path d="M592 238.7H595" stroke="#1b2430" stroke-opacity=".62" stroke-width=".9"/><path d="M596.8 257H605.7" stroke="#1b2430" stroke-opacity=".62" stroke-width=".9"/><path d="M597 260.8H600.6" stroke="#1b2430" stroke-opacity=".62" stroke-width=".9"/><path d="M626.7 222.2H631" stroke="#1b2430" stroke-opacity=".62" stroke-width=".9"/><path d="M650 232.4H654" stroke="#1b2430" stroke-opacity=".62" stroke-width=".9"/><path d="M652.6 238.7H655" stroke="#1b2430" stroke-opacity=".62" stroke-width=".9"/><path d="M648.8 257.7H654" stroke="#1b2430" stroke-opacity=".62" stroke-width=".9"/><path d="M548 213.5H552" stroke="#1b2430" stroke-opacity=".62" stroke-width=".9"/><path d="M573 212H577" stroke="#1b2430" stroke-opacity=".62" stroke-width=".9"/><path d="M578 200H583" stroke="#1b2430" stroke-opacity=".62" stroke-width=".9"/><path d="M590 205.5H594" stroke="#1b2430" stroke-opacity=".62" stroke-width=".9"/><path d="M571 228H575" stroke="#1b2430" stroke-opacity=".62" stroke-width=".9"/><path d="M577 236H581" stroke="#1b2430" stroke-opacity=".62" stroke-width=".9"/></svg>
<div class="t" style="left:123.70px;top:286px;font-size:6.0px;color:#161b26;font-weight:700;letter-spacing:-0.129px;">RECENT CUSTOMERS</div>
<div class="t" style="left:123.70px;top:295px;font-size:5.8px;color:#a2a8b8;letter-spacing:-0.059px;">Sales performance of all states in the united states</div>
<svg class="abs" style="left:114.5px;top:280px" width="176.5" height="175.5" viewBox="114.5 280 176.5 175.5"><defs><filter id="ablur"><feGaussianBlur stdDeviation=".35"/></filter></defs><defs><linearGradient id="sg0" x1="0" y1="0" x2="0" y2="1"><stop offset="0" stop-color="#7fdc8a" stop-opacity=".45"/><stop offset="1" stop-color="#7fdc8a" stop-opacity="0"/></linearGradient></defs><path d="M223.61 328.99 C223.81 328.11 224.23 325.15 224.79 323.67 C225.36 322.19 226.32 320.36 227.01 320.12 C227.70 319.87 228.07 321.45 228.93 322.19 C229.80 322.93 231.15 324.56 232.19 324.56 C233.22 324.56 234.16 322.86 235.15 322.19 C236.13 321.52 237.12 320.44 238.11 320.56 C239.09 320.69 240.03 322.16 241.07 322.93 C242.10 323.69 243.21 325.22 244.32 325.15 C245.43 325.07 246.61 323.13 247.72 322.49 C248.83 321.84 249.87 321.25 250.98 321.30 C252.09 321.35 253.27 322.36 254.38 322.78 C255.49 323.20 256.52 323.96 257.63 323.82 C258.74 323.67 259.93 322.44 261.04 321.89 C262.14 321.35 263.18 320.46 264.29 320.56 C265.40 320.66 266.63 321.82 267.69 322.49 C268.75 323.15 269.71 324.41 270.65 324.56 C271.59 324.70 272.52 323.69 273.31 323.37 C274.10 323.05 274.64 322.34 275.38 322.63 C276.12 322.93 276.94 324.19 277.75 325.15 C278.57 326.11 279.85 327.86 280.27 328.40 L280.27 331.00 L223.61 331.00Z" fill="url(#sg0)"/><path d="M223.61 328.99 C223.81 328.11 224.23 325.15 224.79 323.67 C225.36 322.19 226.32 320.36 227.01 320.12 C227.70 319.87 228.07 321.45 228.93 322.19 C229.80 322.93 231.15 324.56 232.19 324.56 C233.22 324.56 234.16 322.86 235.15 322.19 C236.13 321.52 237.12 320.44 238.11 320.56 C239.09 320.69 240.03 322.16 241.07 322.93 C242.10 323.69 243.21 325.22 244.32 325.15 C245.43 325.07 246.61 323.13 247.72 322.49 C248.83 321.84 249.87 321.25 250.98 321.30 C252.09 321.35 253.27 322.36 254.38 322.78 C255.49 323.20 256.52 323.96 257.63 323.82 C258.74 323.67 259.93 322.44 261.04 321.89 C262.14 321.35 263.18 320.46 264.29 320.56 C265.40 320.66 266.63 321.82 267.69 322.49 C268.75 323.15 269.71 324.41 270.65 324.56 C271.59 324.70 272.52 323.69 273.31 323.37 C274.10 323.05 274.64 322.34 275.38 322.63 C276.12 322.93 276.94 324.19 277.75 325.15 C278.57 326.11 279.85 327.86 280.27 328.40" fill="none" stroke="#7fdc8a" stroke-width=".6" opacity=".85"/><defs><clipPath id="ac0"><circle cx="0" cy="0" r="8.950"/></clipPath></defs><g transform="translate(134.2 325.8)"><g clip-path="url(#ac0)"><g filter="url(#ablur)"><defs><linearGradient id="a1" x1="0" y1="0" x2="1" y2="0"><stop offset="0" stop-color="#a45ce0"/><stop offset=".55" stop-color="#c862c0"/><stop offset="1" stop-color="#f2607a"/></linearGradient></defs><rect x="-9" y="-9" width="18" height="18" fill="url(#a1)"/><path d="M-9.500 9.500L-9 1.800C-6 .6-4 1-2.500 2.500L0 6 2.500 2.500C4 1 6 .6 9 1.800L9.500 9.500Z" fill="#0f1a30"/><path d="M-1.200 4.500L1.200 4.500 1.500 9.500-1.500 9.500Z" fill="#f2f2f6"/><ellipse cx="0" cy="-.5" rx="2.900" ry="5" fill="#e6b49c"/><path d="M-3.300-4.200C-3.800-8.700 3.400-8.700 3-4.200 2-6.200-2-6.200-3.300-4.200Z" fill="#564236"/></g></g></g><defs><linearGradient id="sg1" x1="0" y1="0" x2="0" y2="1"><stop offset="0" stop-color="#fbc05a" stop-opacity=".45"/><stop offset="1" stop-color="#fbc05a" stop-opacity="0"/></linearGradient></defs><path d="M223.61 357.24 C223.81 356.36 224.23 353.40 224.79 351.92 C225.36 350.44 226.32 348.61 227.01 348.37 C227.70 348.12 228.07 349.70 228.93 350.44 C229.80 351.18 231.15 352.81 232.19 352.81 C233.22 352.81 234.16 351.11 235.15 350.44 C236.13 349.77 237.12 348.69 238.11 348.81 C239.09 348.94 240.03 350.41 241.07 351.18 C242.10 351.94 243.21 353.47 244.32 353.40 C245.43 353.32 246.61 351.38 247.72 350.74 C248.83 350.09 249.87 349.50 250.98 349.55 C252.09 349.60 253.27 350.61 254.38 351.03 C255.49 351.45 256.52 352.21 257.63 352.07 C258.74 351.92 259.93 350.69 261.04 350.14 C262.14 349.60 263.18 348.71 264.29 348.81 C265.40 348.91 266.63 350.07 267.69 350.74 C268.75 351.40 269.71 352.66 270.65 352.81 C271.59 352.95 272.52 351.94 273.31 351.62 C274.10 351.30 274.64 350.59 275.38 350.88 C276.12 351.18 276.94 352.44 277.75 353.40 C278.57 354.36 279.85 356.11 280.27 356.65 L280.27 359.25 L223.61 359.25Z" fill="url(#sg1)"/><path d="M223.61 357.24 C223.81 356.36 224.23 353.40 224.79 351.92 C225.36 350.44 226.32 348.61 227.01 348.37 C227.70 348.12 228.07 349.70 228.93 350.44 C229.80 351.18 231.15 352.81 232.19 352.81 C233.22 352.81 234.16 351.11 235.15 350.44 C236.13 349.77 237.12 348.69 238.11 348.81 C239.09 348.94 240.03 350.41 241.07 351.18 C242.10 351.94 243.21 353.47 244.32 353.40 C245.43 353.32 246.61 351.38 247.72 350.74 C248.83 350.09 249.87 349.50 250.98 349.55 C252.09 349.60 253.27 350.61 254.38 351.03 C255.49 351.45 256.52 352.21 257.63 352.07 C258.74 351.92 259.93 350.69 261.04 350.14 C262.14 349.60 263.18 348.71 264.29 348.81 C265.40 348.91 266.63 350.07 267.69 350.74 C268.75 351.40 269.71 352.66 270.65 352.81 C271.59 352.95 272.52 351.94 273.31 351.62 C274.10 351.30 274.64 350.59 275.38 350.88 C276.12 351.18 276.94 352.44 277.75 353.40 C278.57 354.36 279.85 356.11 280.27 356.65" fill="none" stroke="#fbc05a" stroke-width=".6" opacity=".85"/><defs><clipPath id="ac1"><circle cx="0" cy="0" r="8.950"/></clipPath></defs><g transform="translate(134.2 354.05)"><g clip-path="url(#ac1)"><g filter="url(#ablur)"><rect x="-9" y="-9" width="18" height="18" fill="#0b0f0c"/><rect x="-9" y="-2" width="18" height="5.200" fill="#0f9a3c"/><circle cx="5.500" cy="6.200" r="1.700" fill="#3f7fd0"/><path d="M-5.200 9.500C-6.200 2-5-7.500 0-8 4.500-7.500 4.800-2 4.200 3L4.500 9.500Z" fill="#e3c48e"/><ellipse cx=".7" cy="-.3" rx="2.600" ry="4.900" fill="#e9bda4"/><path d="M-2 -3C-1.500-6.500 3.500-6 3.400-2.500 2-4.500 0-5-2-3Z" fill="#e6c994"/></g></g></g><path d="M114.5 339.93H291" stroke="#f5f6fa" stroke-width=".6"/><defs><linearGradient id="sg2" x1="0" y1="0" x2="0" y2="1"><stop offset="0" stop-color="#f78bd0" stop-opacity=".45"/><stop offset="1" stop-color="#f78bd0" stop-opacity="0"/></linearGradient></defs><path d="M223.61 385.49 C223.81 384.61 224.23 381.65 224.79 380.17 C225.36 378.69 226.32 376.86 227.01 376.62 C227.70 376.37 228.07 377.95 228.93 378.69 C229.80 379.43 231.15 381.06 232.19 381.06 C233.22 381.06 234.16 379.36 235.15 378.69 C236.13 378.02 237.12 376.94 238.11 377.06 C239.09 377.19 240.03 378.66 241.07 379.43 C242.10 380.19 243.21 381.72 244.32 381.65 C245.43 381.57 246.61 379.63 247.72 378.99 C248.83 378.34 249.87 377.75 250.98 377.80 C252.09 377.85 253.27 378.86 254.38 379.28 C255.49 379.70 256.52 380.46 257.63 380.32 C258.74 380.17 259.93 378.94 261.04 378.39 C262.14 377.85 263.18 376.96 264.29 377.06 C265.40 377.16 266.63 378.32 267.69 378.99 C268.75 379.65 269.71 380.91 270.65 381.06 C271.59 381.20 272.52 380.19 273.31 379.87 C274.10 379.55 274.64 378.84 275.38 379.13 C276.12 379.43 276.94 380.69 277.75 381.65 C278.57 382.61 279.85 384.36 280.27 384.90 L280.27 387.50 L223.61 387.50Z" fill="url(#sg2)"/><path d="M223.61 385.49 C223.81 384.61 224.23 381.65 224.79 380.17 C225.36 378.69 226.32 376.86 227.01 376.62 C227.70 376.37 228.07 377.95 228.93 378.69 C229.80 379.43 231.15 381.06 232.19 381.06 C233.22 381.06 234.16 379.36 235.15 378.69 C236.13 378.02 237.12 376.94 238.11 377.06 C239.09 377.19 240.03 378.66 241.07 379.43 C242.10 380.19 243.21 381.72 244.32 381.65 C245.43 381.57 246.61 379.63 247.72 378.99 C248.83 378.34 249.87 377.75 250.98 377.80 C252.09 377.85 253.27 378.86 254.38 379.28 C255.49 379.70 256.52 380.46 257.63 380.32 C258.74 380.17 259.93 378.94 261.04 378.39 C262.14 377.85 263.18 376.96 264.29 377.06 C265.40 377.16 266.63 378.32 267.69 378.99 C268.75 379.65 269.71 380.91 270.65 381.06 C271.59 381.20 272.52 380.19 273.31 379.87 C274.10 379.55 274.64 378.84 275.38 379.13 C276.12 379.43 276.94 380.69 277.75 381.65 C278.57 382.61 279.85 384.36 280.27 384.90" fill="none" stroke="#f78bd0" stroke-width=".6" opacity=".85"/><defs><clipPath id="ac2"><circle cx="0" cy="0" r="8.950"/></clipPath></defs><g transform="translate(134.2 382.3)"><g clip-path="url(#ac2)"><g filter="url(#ablur)"><rect x="-9" y="-9" width="18" height="18" fill="#0c0c10"/><rect x="-9" y="-2.100" width="18" height="2.900" fill="#e8402a"/><rect x="-9" y=".9" width="3.500" height="1.200" fill="#2fa9ba"/><path d="M-8 9.500C-7 5.500-4 4.300-2 4L0 6 2 4C4 4.300 7 5.500 8 9.500Z" fill="#17171c"/><ellipse cx="-.2" cy="-.9" rx="3.400" ry="5.200" fill="#d9a88f"/><path d="M-3.700-3.300C-4.100-8.800 3.900-8.800 3.400-3.300 2-6-2-6-3.700-3.300Z" fill="#66564f"/><rect x="-.8" y="1.900" width="2.400" height=".9" rx=".4" fill="#f4efec"/></g></g></g><path d="M114.5 368.18H291" stroke="#f5f6fa" stroke-width=".6"/><defs><linearGradient id="sg3" x1="0" y1="0" x2="0" y2="1"><stop offset="0" stop-color="#3fd6c8" stop-opacity=".45"/><stop offset="1" stop-color="#3fd6c8" stop-opacity="0"/></linearGradient></defs><path d="M223.61 413.74 C223.81 412.86 224.23 409.90 224.79 408.42 C225.36 406.94 226.32 405.11 227.01 404.87 C227.70 404.62 228.07 406.20 228.93 406.94 C229.80 407.68 231.15 409.31 232.19 409.31 C233.22 409.31 234.16 407.61 235.15 406.94 C236.13 406.27 237.12 405.19 238.11 405.31 C239.09 405.44 240.03 406.91 241.07 407.68 C242.10 408.44 243.21 409.97 244.32 409.90 C245.43 409.82 246.61 407.88 247.72 407.24 C248.83 406.59 249.87 406.00 250.98 406.05 C252.09 406.10 253.27 407.11 254.38 407.53 C255.49 407.95 256.52 408.71 257.63 408.57 C258.74 408.42 259.93 407.19 261.04 406.64 C262.14 406.10 263.18 405.21 264.29 405.31 C265.40 405.41 266.63 406.57 267.69 407.24 C268.75 407.90 269.71 409.16 270.65 409.31 C271.59 409.45 272.52 408.44 273.31 408.12 C274.10 407.80 274.64 407.09 275.38 407.38 C276.12 407.68 276.94 408.94 277.75 409.90 C278.57 410.86 279.85 412.61 280.27 413.15 L280.27 415.75 L223.61 415.75Z" fill="url(#sg3)"/><path d="M223.61 413.74 C223.81 412.86 224.23 409.90 224.79 408.42 C225.36 406.94 226.32 405.11 227.01 404.87 C227.70 404.62 228.07 406.20 228.93 406.94 C229.80 407.68 231.15 409.31 232.19 409.31 C233.22 409.31 234.16 407.61 235.15 406.94 C236.13 406.27 237.12 405.19 238.11 405.31 C239.09 405.44 240.03 406.91 241.07 407.68 C242.10 408.44 243.21 409.97 244.32 409.90 C245.43 409.82 246.61 407.88 247.72 407.24 C248.83 406.59 249.87 406.00 250.98 406.05 C252.09 406.10 253.27 407.11 254.38 407.53 C255.49 407.95 256.52 408.71 257.63 408.57 C258.74 408.42 259.93 407.19 261.04 406.64 C262.14 406.10 263.18 405.21 264.29 405.31 C265.40 405.41 266.63 406.57 267.69 407.24 C268.75 407.90 269.71 409.16 270.65 409.31 C271.59 409.45 272.52 408.44 273.31 408.12 C274.10 407.80 274.64 407.09 275.38 407.38 C276.12 407.68 276.94 408.94 277.75 409.90 C278.57 410.86 279.85 412.61 280.27 413.15" fill="none" stroke="#3fd6c8" stroke-width=".6" opacity=".85"/><defs><clipPath id="ac3"><circle cx="0" cy="0" r="8.950"/></clipPath></defs><g transform="translate(134.2 410.55)"><g clip-path="url(#ac3)"><g filter="url(#ablur)"><defs><linearGradient id="a4" x1="0" y1="0" x2="1" y2="1"><stop offset="0" stop-color="#2a7a1a"/><stop offset="1" stop-color="#459a2c"/></linearGradient></defs><rect x="-9" y="-9" width="18" height="18" fill="url(#a4)"/><circle cx="5.500" cy="7" r="2.600" fill="#17170f"/><path d="M-6.500 9.500C-7.200 0-4.500-7-.2-7.300 4.500-7 6-1 5 5L5.500 9.500Z" fill="#d9a268"/><path d="M-4 9.500C-3.500 6-1.500 4.500-.5 4.500 1 4.500 3 6 3.500 9.500Z" fill="#ecd3c4"/><ellipse cx="-.5" cy="-.5" rx="2.600" ry="4.600" fill="#f1cbb4"/><path d="M-3.200-2.500C-3-6.500 2.500-6.500 2.300-2.500 1-4.800-1.500-5-3.200-2.500Z" fill="#dba76e"/></g></g></g><path d="M114.5 396.43H291" stroke="#f5f6fa" stroke-width=".6"/><defs><linearGradient id="sg4" x1="0" y1="0" x2="0" y2="1"><stop offset="0" stop-color="#c48df5" stop-opacity=".45"/><stop offset="1" stop-color="#c48df5" stop-opacity="0"/></linearGradient></defs><path d="M223.61 441.99 C223.81 441.11 224.23 438.15 224.79 436.67 C225.36 435.19 226.32 433.36 227.01 433.12 C227.70 432.87 228.07 434.45 228.93 435.19 C229.80 435.93 231.15 437.56 232.19 437.56 C233.22 437.56 234.16 435.86 235.15 435.19 C236.13 434.52 237.12 433.44 238.11 433.56 C239.09 433.69 240.03 435.16 241.07 435.93 C242.10 436.69 243.21 438.22 244.32 438.15 C245.43 438.07 246.61 436.13 247.72 435.49 C248.83 434.84 249.87 434.25 250.98 434.30 C252.09 434.35 253.27 435.36 254.38 435.78 C255.49 436.20 256.52 436.96 257.63 436.82 C258.74 436.67 259.93 435.44 261.04 434.89 C262.14 434.35 263.18 433.46 264.29 433.56 C265.40 433.66 266.63 434.82 267.69 435.49 C268.75 436.15 269.71 437.41 270.65 437.56 C271.59 437.70 272.52 436.69 273.31 436.37 C274.10 436.05 274.64 435.34 275.38 435.63 C276.12 435.93 276.94 437.19 277.75 438.15 C278.57 439.11 279.85 440.86 280.27 441.40 L280.27 444.00 L223.61 444.00Z" fill="url(#sg4)"/><path d="M223.61 441.99 C223.81 441.11 224.23 438.15 224.79 436.67 C225.36 435.19 226.32 433.36 227.01 433.12 C227.70 432.87 228.07 434.45 228.93 435.19 C229.80 435.93 231.15 437.56 232.19 437.56 C233.22 437.56 234.16 435.86 235.15 435.19 C236.13 434.52 237.12 433.44 238.11 433.56 C239.09 433.69 240.03 435.16 241.07 435.93 C242.10 436.69 243.21 438.22 244.32 438.15 C245.43 438.07 246.61 436.13 247.72 435.49 C248.83 434.84 249.87 434.25 250.98 434.30 C252.09 434.35 253.27 435.36 254.38 435.78 C255.49 436.20 256.52 436.96 257.63 436.82 C258.74 436.67 259.93 435.44 261.04 434.89 C262.14 434.35 263.18 433.46 264.29 433.56 C265.40 433.66 266.63 434.82 267.69 435.49 C268.75 436.15 269.71 437.41 270.65 437.56 C271.59 437.70 272.52 436.69 273.31 436.37 C274.10 436.05 274.64 435.34 275.38 435.63 C276.12 435.93 276.94 437.19 277.75 438.15 C278.57 439.11 279.85 440.86 280.27 441.40" fill="none" stroke="#c48df5" stroke-width=".6" opacity=".85"/><defs><clipPath id="ac4"><circle cx="0" cy="0" r="8.950"/></clipPath></defs><g transform="translate(134.2 438.8)"><g clip-path="url(#ac4)"><g filter="url(#ablur)"><rect x="-9" y="-9" width="18" height="18" fill="#121d18"/><ellipse cx="-4.500" cy="-4" rx="4" ry="3.500" fill="#1f5a32"/><rect x="-9" y="-.1" width="18" height="2.900" fill="#5a3c2c"/><path d="M-8.500 9.500L-8 4C-6 2.800-3.500 2.600-2.200 2.800L0 6 2.200 2.800C3.500 2.600 6 2.800 8 4L8.500 9.500Z" fill="#2a62b2"/><path d="M-1.600 3L1.600 3 1.700 9.500-1.700 9.500Z" fill="#eef3f8"/><path d="M-.5 4.500L.5 4.500 .7 9.500-.7 9.500Z" fill="#5a9ae0"/><ellipse cx="0" cy="-1" rx="3.200" ry="4.300" fill="#e2ac94"/><path d="M-3.400-2.800C-3.800-8 3.800-8 3.400-2.800 2-5.300-2-5.300-3.400-2.800Z" fill="#7a6252"/></g></g></g><path d="M114.5 424.68H291" stroke="#f5f6fa" stroke-width=".6"/></svg>
<div class="t" style="left:148.20px;top:315px;font-size:5.6px;color:#161b26;font-weight:700;letter-spacing:-0.104px;">Samantha Melon</div>
<div class="t" style="left:148.20px;top:325px;font-size:4.9px;color:#a2a8b8;letter-spacing:-0.086px;">User ID: #1234</div>
<div class="t" style="left:182.00px;top:325px;font-size:4.9px;color:#2fc26e;letter-spacing:-0.074px;">Paid</div>
<div class="t" style="left:148.20px;top:344px;font-size:5.5px;color:#161b26;font-weight:700;letter-spacing:-0.094px;">Jimmy Changa</div>
<div class="t" style="left:148.20px;top:353px;font-size:4.9px;color:#a2a8b8;letter-spacing:-0.086px;">User ID: #1234</div>
<div class="t" style="left:182.00px;top:352px;font-size:5.0px;color:#f7365a;letter-spacing:-0.051px;">Pending</div>
<div class="t" style="left:148.20px;top:372px;font-size:5.4px;color:#161b26;font-weight:700;letter-spacing:-0.072px;">Gabe Lackmen</div>
<div class="t" style="left:148.20px;top:381px;font-size:4.9px;color:#a2a8b8;letter-spacing:-0.086px;">User ID: #1234</div>
<div class="t" style="left:182.00px;top:381px;font-size:4.9px;color:#2fc26e;letter-spacing:-0.074px;">Paid</div>
<div class="t" style="left:148.20px;top:400px;font-size:5.5px;color:#161b26;font-weight:700;letter-spacing:-0.064px;">Manuel Labor</div>
<div class="t" style="left:148.20px;top:410px;font-size:4.9px;color:#a2a8b8;letter-spacing:-0.086px;">User ID: #1234</div>
<div class="t" style="left:182.00px;top:409px;font-size:5.0px;color:#f7365a;letter-spacing:-0.051px;">Pending</div>
<div class="t" style="left:148.20px;top:428px;font-size:5.5px;color:#161b26;font-weight:700;letter-spacing:-0.113px;">Sharon Needles</div>
<div class="t" style="left:148.20px;top:438px;font-size:4.9px;color:#a2a8b8;letter-spacing:-0.086px;">User ID: #1234</div>
<div class="t" style="left:182.00px;top:438px;font-size:4.9px;color:#2fc26e;letter-spacing:-0.074px;">Paid</div>
<div class="t" style="left:310.50px;top:286px;font-size:6.1px;color:#161b26;font-weight:700;letter-spacing:-0.096px;">SALES ACTIVITY</div>
<div class="t" style="left:310.50px;top:295px;font-size:5.8px;color:#a2a8b8;letter-spacing:-0.059px;">Sales performance of all states in the united states</div>
<svg class="abs" style="left:301.7px;top:280px" width="176.3" height="175.5" viewBox="301.7 280 176.3 175.5"><defs><linearGradient id="ag0" x1="0" y1="0" x2="0" y2="1"><stop offset="0" stop-color="#8fd838"/><stop offset="1" stop-color="#2bc568"/></linearGradient></defs><circle cx="321.1" cy="326.10" r="9" fill="url(#ag0)"/><g transform="translate(321.1 326.10) scale(1.3)" fill="#fff"><circle cx="-.9" cy="-.6" r="1.900"/><circle cx="1.300" cy="1" r="1.900"/><circle cx="-1.300" cy="1.300" r="1.300"/></g><defs><linearGradient id="ag1" x1="0" y1="0" x2="0" y2="1"><stop offset="0" stop-color="#ffa800"/><stop offset="1" stop-color="#ff5325"/></linearGradient></defs><circle cx="321.1" cy="354.35" r="9" fill="url(#ag1)"/><g transform="translate(321.1 354.35) scale(1.3)" fill="#fff"><path d="M-2.600-2h1l.3.700h3.700l-.6 2.500H-1.500l.2.500h3.300v.5H-1.800L-2.500-1.500h-.4z"/><circle cx="-.9" cy="2.500" r=".45"/><circle cx="1.600" cy="2.500" r=".45"/></g><path d="M301.7 339.93H478" stroke="#f5f6fa" stroke-width=".6"/><defs><linearGradient id="ag2" x1="0" y1="0" x2="0" y2="1"><stop offset="0" stop-color="#2f9cea"/><stop offset="1" stop-color="#15c8a4"/></linearGradient></defs><circle cx="321.1" cy="382.60" r="9" fill="url(#ag2)"/><g transform="translate(321.1 382.60) scale(1.3)" fill="#fff"><path d="M-2.700 2V.2L-1.500-1.300-.4-.2.600-1.700l1 1.100V-.9h.9V2z"/></g><path d="M301.7 368.18H478" stroke="#f5f6fa" stroke-width=".6"/><defs><linearGradient id="ag3" x1="0" y1="0" x2="0" y2="1"><stop offset="0" stop-color="#fb4e66"/><stop offset="1" stop-color="#e64fca"/></linearGradient></defs><circle cx="321.1" cy="410.85" r="9" fill="url(#ag3)"/><g transform="translate(321.1 410.85) scale(1.3)" fill="#fff"><path d="M-3-1.800H3V1.800H-3z M-2.300-1.100V1.100H-.4V-1.100z M.4-1.100V1.100H2.300V-1.100z" fill-rule="evenodd"/></g><path d="M301.7 396.43H478" stroke="#f5f6fa" stroke-width=".6"/><defs><linearGradient id="ag4" x1="0" y1="0" x2="0" y2="1"><stop offset="0" stop-color="#c65cf7"/><stop offset="1" stop-color="#584bbd"/></linearGradient></defs><circle cx="321.1" cy="439.10" r="9" fill="url(#ag4)"/><g transform="translate(321.1 439.10) scale(1.3)" fill="#fff"><path d="M-2.300-.2C-2.300-1.500-1.800-2.200-1-2.200S.3-1.600 0-.9C.3-1.600 1-2.200 1.800-2.200S2.500-1 2.300-.2L2 2.300H-2z"/></g><path d="M301.7 424.68H478" stroke="#f5f6fa" stroke-width=".6"/></svg>
<div class="t" style="left:335.00px;top:315px;font-size:5.5px;color:#161b26;font-weight:700;letter-spacing:-0.097px;">Total Products</div>
<div class="t" style="left:335.00px;top:324px;font-size:5.1px;color:#a2a8b8;letter-spacing:-0.088px;">1.3k New Products</div>
<div class="t" style="left:439.20px;top:315px;font-size:5.0px;color:#a2a8b8;letter-spacing:-0.072px;">3 days ago</div>
<div class="t" style="left:335.00px;top:343px;font-size:5.4px;color:#161b26;font-weight:700;letter-spacing:-0.051px;">Total Sales</div>
<div class="t" style="left:335.00px;top:352px;font-size:5.0px;color:#a2a8b8;letter-spacing:-0.090px;">2k New Sales</div>
<div class="t" style="left:439.20px;top:343px;font-size:5.1px;color:#a2a8b8;letter-spacing:-0.068px;">35 mins ago</div>
<div class="t" style="left:335.00px;top:372px;font-size:5.5px;color:#161b26;font-weight:700;letter-spacing:-0.107px;">Toatal Revenue</div>
<div class="t" style="left:335.00px;top:381px;font-size:4.9px;color:#a2a8b8;letter-spacing:-0.062px;">23.5k New Revenue</div>
<div class="t" style="left:439.20px;top:372px;font-size:5.1px;color:#a2a8b8;letter-spacing:-0.068px;">50 mins ago</div>
<div class="t" style="left:335.00px;top:400px;font-size:5.6px;color:#161b26;font-weight:700;letter-spacing:-0.075px;">Toatal Profit</div>
<div class="t" style="left:335.00px;top:409px;font-size:5.2px;color:#a2a8b8;letter-spacing:-0.075px;">4K New Profit</div>
<div class="t" style="left:439.20px;top:401px;font-size:4.9px;color:#a2a8b8;letter-spacing:-0.064px;">5 hour ago</div>
<div class="t" style="left:335.00px;top:428px;font-size:5.5px;color:#161b26;font-weight:700;letter-spacing:-0.085px;">Customer Visits</div>
<div class="t" style="left:335.00px;top:437px;font-size:5.0px;color:#a2a8b8;letter-spacing:-0.083px;">15% increased</div>
<div class="t" style="left:439.20px;top:428px;font-size:5.0px;color:#a2a8b8;letter-spacing:-0.080px;">1 day ago</div>
<div class="t" style="left:497.50px;top:286px;font-size:5.8px;color:#161b26;font-weight:700;letter-spacing:-0.119px;">RECENT ORDERS</div>
<div class="t" style="left:497.50px;top:295px;font-size:5.8px;color:#a2a8b8;letter-spacing:-0.059px;">Sales performance of all states in the united states</div>
<svg class="abs" style="left:488.2px;top:280px" width="176.3" height="175.5" viewBox="488.2 280 176.3 175.5"><defs><filter id="dsh" x="-30%" y="-30%" width="160%" height="160%"><feGaussianBlur stdDeviation="2"/></filter></defs><circle cx="576.5" cy="352.5" r="27.65" fill="none" stroke="#8a94a8" stroke-opacity=".22" stroke-width="9" filter="url(#dsh)"/><path d="M574.33 323.94 A27.65 27.65 0 1 1 559.25 373.11" fill="none" stroke="#fbb017" stroke-width="7.600"/><path d="M559.25 373.11 A27.65 27.65 0 0 1 574.33 323.94" fill="none" stroke="#2dc872" stroke-width="7.600"/><circle cx="512.9" cy="430.9" r="11" fill="none" stroke="#f1f3f8" stroke-width="1.200"/><path d="M512.90 419.90 A11 11 0 1 1 506.43 439.80" fill="none" stroke="#fb2a15" stroke-width="1.500" stroke-linecap="round"/><circle cx="601.2" cy="430.9" r="11" fill="none" stroke="#f1f3f8" stroke-width="1.200"/><path d="M601.20 419.90 A11 11 0 0 1 611.66 434.30" fill="none" stroke="#b445f5" stroke-width="1.500" stroke-linecap="round"/><path d="M488.2 412.300H664.500" stroke="#f0f2f7" stroke-width=".7"/><circle cx="502" cy="402.600" r="1.600" fill="#2dc872"/><circle cx="589.200" cy="402.600" r="1.600" fill="#fbb017"/></svg>
<div class="t" style="left:565.00px;top:346px;font-size:11.8px;color:#fbb017;font-weight:700;letter-spacing:-0.208px;">80%</div>
<div class="t" style="left:500.60px;top:386px;font-size:6.0px;color:#2dc872;font-weight:700;letter-spacing:0.230px;">4,982.00</div>
<div class="t" style="left:587.80px;top:386px;font-size:6.0px;color:#fbb017;font-weight:700;letter-spacing:0.155px;">6,982.00</div>
<div class="t" style="left:506.20px;top:396px;font-size:5.4px;color:#161b26;font-weight:700;letter-spacing:-0.074px;">Cancelled</div>
<div class="t" style="left:533.00px;top:396px;font-size:5.1px;color:#a2a8b8;letter-spacing:-0.066px;">(Last 6 months)</div>
<div class="t" style="left:593.40px;top:396px;font-size:5.3px;color:#161b26;font-weight:700;letter-spacing:-0.073px;">Delivered</div>
<div class="t" style="left:618.50px;top:396px;font-size:5.1px;color:#a2a8b8;letter-spacing:-0.066px;">(Last 6 months)</div>
<div class="t" style="left:507.50px;top:425px;font-size:5.6px;color:#fb2a15;font-weight:700;letter-spacing:-0.134px;">60%</div>
<div class="t" style="left:595.80px;top:425px;font-size:5.6px;color:#b445f5;font-weight:700;letter-spacing:-0.134px;">30%</div>
<div class="t" style="left:531.40px;top:421px;font-size:6.6px;color:#161b26;font-weight:700;letter-spacing:-0.092px;">$24,987.00</div>
<div class="t" style="left:531.40px;top:429px;font-size:5.3px;color:#a2a8b8;letter-spacing:-0.084px;">Total Sales</div>
<div class="t" style="left:619.40px;top:421px;font-size:6.6px;color:#161b26;font-weight:700;letter-spacing:-0.092px;">$12,987.00</div>
<div class="t" style="left:619.40px;top:429px;font-size:5.3px;color:#a2a8b8;letter-spacing:-0.061px;">Active Users</div>
</div>
</body></html>
